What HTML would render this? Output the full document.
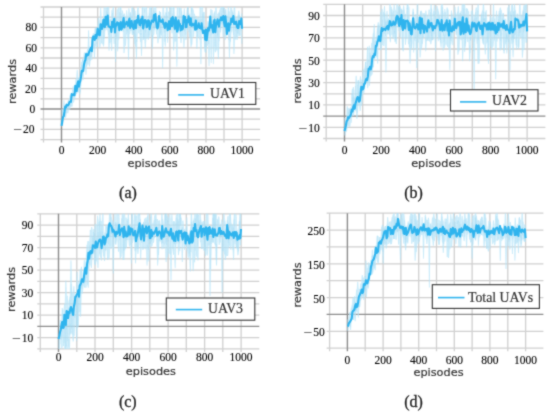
<!DOCTYPE html>
<html><head><meta charset="utf-8"><style>
html,body{margin:0;padding:0;background:#fff;}
svg{display:block;}
.tk{font-family:"Liberation Serif",serif;font-size:11.5px;fill:#000;stroke:#000;stroke-width:0.12px;}
.lb{font-family:"DejaVu Sans",sans-serif;font-size:11.3px;fill:#333;stroke:#333;stroke-width:0.2px;}
.lg{font-family:"Liberation Serif",serif;font-size:13.8px;letter-spacing:0px;fill:#333;stroke:#333;stroke-width:0.2px;}
.cp{font-family:"Liberation Serif",serif;font-size:16px;fill:#222;stroke:#222;stroke-width:0.3px;}
</style></head><body>
<svg width="550" height="415" viewBox="0 0 550 415">
<defs><filter id="bl" x="0" y="0" width="550" height="415" filterUnits="userSpaceOnUse" color-interpolation-filters="sRGB"><feConvolveMatrix order="3" kernelMatrix="0.035 0.09 0.035 0.09 0.5 0.09 0.035 0.09 0.035" edgeMode="duplicate"/></filter></defs>
<rect width="550" height="415" fill="#fff"/>
<g filter="url(#bl)">
<rect width="550" height="415" fill="#fff"/>
<path d="M43.5 7V142.6M79.6 7V142.6M97.7 7V142.6M115.7 7V142.6M133.8 7V142.6M151.8 7V142.6M169.9 7V142.6M187.9 7V142.6M206 7V142.6M224 7V142.6M242.1 7V142.6M40.5 139.6H260.1M40.5 129.4H260.1M40.5 119.2H260.1M40.5 98.8H260.1M40.5 88.6H260.1M40.5 78.4H260.1M40.5 68.2H260.1M40.5 58H260.1M40.5 47.8H260.1M40.5 37.6H260.1M40.5 27.4H260.1M40.5 17.2H260.1M40.5 7H260.1" stroke="#d0d0d0" stroke-width="1.3" fill="none"/>
<path d="M61.5 7V142.6M40.5 109H260.1" stroke="#8c8c8c" stroke-width="1.4" fill="none"/>
<clipPath id="clipa"><rect x="43.5" y="7" width="216.6" height="132.6"/></clipPath>
<g clip-path="url(#clipa)"><polygon points="61.55,108.70 61.91,108.70 62.27,108.70 62.63,109.08 62.99,105.66 63.36,102.23 63.72,100.14 64.08,100.14 64.44,101.65 64.80,104.68 65.16,104.61 65.52,102.78 65.88,104.73 66.24,102.91 66.60,102.71 66.97,103.01 67.33,102.38 67.69,100.87 68.05,99.99 68.41,99.55 68.77,99.55 69.13,98.71 69.49,97.02 69.85,95.34 70.21,95.34 70.58,95.01 70.94,94.36 71.30,93.71 71.66,92.01 72.02,90.13 72.38,87.82 72.74,86.36 73.10,86.36 73.46,86.36 73.82,88.21 74.19,89.03 74.55,87.47 74.91,83.75 75.27,81.08 75.63,78.63 75.99,78.63 76.35,75.09 76.71,71.54 77.07,69.77 77.43,69.77 77.80,71.35 78.16,74.52 78.52,77.68 78.88,77.46 79.24,77.02 79.60,76.58 79.96,74.65 80.32,69.88 80.68,64.19 81.04,62.34 81.41,61.73 81.77,60.50 82.13,59.27 82.49,59.27 82.85,59.27 83.21,57.91 83.57,55.18 83.93,52.46 84.29,52.46 84.65,52.46 85.02,53.13 85.38,53.07 85.74,52.32 86.10,52.09 86.46,51.67 86.82,50.38 87.18,49.09 87.54,45.36 87.90,37.89 88.26,30.42 88.62,30.42 88.99,30.42 89.35,36.99 89.71,44.01 90.07,48.17 90.43,46.99 90.79,46.37 91.15,43.22 91.51,39.97 91.87,38.50 92.24,36.74 92.60,35.06 92.96,33.32 93.32,33.32 93.68,33.32 94.04,33.48 94.40,31.40 94.76,28.03 95.12,27.64 95.48,27.64 95.84,27.64 96.21,28.58 96.57,28.79 96.93,28.18 97.29,25.06 97.65,20.92 98.01,17.84 98.37,17.84 98.73,17.84 99.09,18.85 99.46,19.86 99.82,15.16 100.18,9.96 100.54,7.35 100.90,7.35 101.26,10.19 101.62,15.86 101.98,21.23 102.34,20.61 102.70,19.99 103.06,16.77 103.43,11.13 103.79,5.88 104.15,5.88 104.51,5.88 104.87,7.32 105.23,8.03 105.59,7.65 105.95,5.72 106.31,1.85 106.68,-2.01 107.04,-2.01 107.40,-2.01 107.76,-0.36 108.12,1.29 108.48,2.12 108.84,2.12 109.20,4.72 109.56,11.75 109.92,18.64 110.29,16.93 110.65,19.35 111.01,15.47 111.37,11.59 111.73,9.64 112.09,9.64 112.45,7.72 112.81,5.79 113.17,4.83 113.53,4.83 113.90,7.46 114.26,12.72 114.62,17.97 114.98,18.78 115.34,18.48 115.70,17.23 116.06,15.70 116.42,12.64 116.78,9.58 117.14,9.58 117.51,8.72 117.87,7.86 118.23,7.43 118.59,7.43 118.95,8.42 119.31,8.30 119.67,8.03 120.03,6.69 120.39,6.39 120.75,6.39 121.12,6.39 121.48,8.05 121.84,9.71 122.20,10.54 122.56,10.54 122.92,11.39 123.28,12.86 123.64,14.09 124.00,13.62 124.36,13.62 124.73,13.62 125.09,15.03 125.45,16.44 125.81,14.41 126.17,11.69 126.53,10.32 126.89,10.32 127.25,11.88 127.61,14.99 127.97,14.16 128.34,10.21 128.70,8.23 129.06,8.23 129.42,9.04 129.78,10.65 130.14,12.26 130.50,12.26 130.86,12.26 131.22,8.34 131.58,4.42 131.94,2.46 132.31,2.46 132.67,3.45 133.03,6.36 133.39,9.03 133.75,9.72 134.11,9.14 134.47,9.14 134.83,9.55 135.19,10.35 135.56,11.16 135.92,14.45 136.28,18.40 136.64,16.09 137.00,9.12 137.36,0.45 137.72,-5.56 138.08,-5.56 138.44,-5.56 138.80,2.11 139.17,9.79 139.53,13.87 139.89,14.36 140.25,17.19 140.61,19.92 140.97,17.17 141.33,13.85 141.69,6.18 142.05,-0.36 142.41,-0.36 142.78,-0.36 143.14,1.75 143.50,6.61 143.86,8.09 144.22,5.31 144.58,2.66 144.94,2.66 145.30,2.66 145.66,3.02 146.02,3.38 146.39,3.56 146.75,3.56 147.11,6.61 147.47,12.08 147.83,16.92 148.19,15.65 148.55,12.40 148.91,9.14 149.27,7.51 149.63,7.51 150.00,7.55 150.36,6.77 150.72,5.13 151.08,3.41 151.44,3.41 151.80,3.41 152.16,7.24 152.52,10.41 152.88,9.76 153.24,5.94 153.61,3.44 153.97,3.44 154.33,3.44 154.69,5.49 155.05,6.55 155.41,6.10 155.77,6.10 156.13,6.10 156.49,9.69 156.85,13.77 157.22,16.31 157.58,17.55 157.94,18.64 158.30,17.31 158.66,13.74 159.02,10.97 159.38,10.97 159.74,10.97 160.10,11.43 160.46,11.89 160.83,12.14 161.19,14.03 161.55,17.79 161.91,19.11 162.27,10.71 162.63,1.49 162.99,-1.54 163.35,-1.54 163.71,1.83 164.07,8.57 164.44,12.09 164.80,14.68 165.16,13.42 165.52,12.17 165.88,7.60 166.24,3.02 166.60,0.73 166.96,0.73 167.32,2.49 167.68,6.94 168.05,11.39 168.41,11.87 168.77,11.75 169.13,10.17 169.49,7.25 169.85,4.58 170.21,4.58 170.57,3.90 170.93,2.56 171.29,1.22 171.66,1.22 172.02,1.22 172.38,3.74 172.74,4.70 173.10,3.62 173.46,3.62 173.82,3.62 174.18,4.90 174.54,8.61 174.90,14.11 175.27,18.98 175.63,15.49 175.99,18.98 176.35,15.83 176.71,8.31 177.07,0.19 177.43,0.19 177.79,0.19 178.15,5.32 178.51,7.95 178.88,7.81 179.24,6.79 179.60,6.79 179.96,7.10 180.32,7.55 180.68,8.00 181.04,7.92 181.40,7.92 181.76,8.63 182.12,11.23 182.49,14.61 182.85,16.19 183.21,14.04 183.57,11.24 183.93,8.43 184.29,8.43 184.65,8.43 185.01,12.50 185.37,16.11 185.73,17.69 186.10,15.81 186.46,11.83 186.82,7.10 187.18,5.43 187.54,5.43 187.90,5.43 188.26,6.09 188.62,7.97 188.98,10.77 189.34,13.58 189.71,14.12 190.07,14.16 190.43,11.18 190.79,7.77 191.15,5.62 191.51,4.10 191.87,3.34 192.23,3.34 192.59,4.57 192.95,7.01 193.32,9.45 193.68,10.32 194.04,12.05 194.40,13.77 194.76,13.77 195.12,14.80 195.48,15.75 195.84,16.15 196.20,16.15 196.56,16.15 196.93,16.87 197.29,17.59 197.65,17.75 198.01,17.37 198.37,16.98 198.73,16.98 199.09,16.98 199.45,7.81 199.81,-1.36 200.17,-5.95 200.54,-5.95 200.90,-1.35 201.26,-0.28 201.62,0.80 201.98,-3.25 202.34,-3.25 202.70,-0.17 203.06,6.00 203.42,12.08 203.78,11.99 204.15,11.95 204.51,11.95 204.87,14.90 205.23,22.06 205.59,29.55 205.95,27.54 206.31,31.02 206.67,31.02 207.03,27.02 207.39,23.02 207.76,21.02 208.12,21.02 208.48,21.39 208.84,22.13 209.20,20.04 209.56,17.22 209.92,13.04 210.28,10.27 210.64,8.88 211.00,8.88 211.37,9.13 211.73,9.62 212.09,10.11 212.45,10.11 212.81,13.48 213.17,14.71 213.53,14.07 213.89,12.23 214.25,11.59 214.61,11.59 214.98,10.10 215.34,7.13 215.70,4.16 216.06,4.16 216.42,4.16 216.78,9.55 217.14,13.48 217.50,13.98 217.86,13.36 218.22,12.74 218.59,12.44 218.95,11.31 219.31,10.19 219.67,9.63 220.03,5.79 220.39,1.95 220.75,0.03 221.11,0.03 221.47,0.31 221.83,1.67 222.20,3.04 222.56,3.92 222.92,4.46 223.28,4.98 223.64,4.78 224.00,4.78 224.36,5.89 224.72,7.81 225.08,9.44 225.44,8.85 225.81,8.85 226.17,8.85 226.53,11.61 226.89,14.38 227.25,13.61 227.61,9.32 227.97,5.03 228.33,5.03 228.69,5.03 229.05,7.73 229.42,10.42 229.78,11.58 230.14,9.17 230.50,6.76 230.86,5.75 231.22,5.75 231.58,6.55 231.94,8.15 232.30,9.75 232.66,10.62 233.03,11.48 233.39,9.33 233.75,3.66 234.11,-2.25 234.47,-2.25 234.83,-2.25 235.19,4.92 235.55,12.68 235.91,17.08 236.27,17.41 236.64,17.97 237.00,17.57 237.36,16.05 237.72,14.16 238.08,12.29 238.44,10.73 238.80,10.73 239.16,10.73 239.52,12.36 239.88,14.00 240.25,16.92 240.61,17.73 240.97,16.19 241.33,13.60 241.69,13.60 242.05,13.60 242.05,43.72 241.69,43.72 241.33,41.19 240.97,38.01 240.61,34.83 240.25,35.77 239.88,35.94 239.52,36.10 239.16,36.19 238.80,36.19 238.44,35.72 238.08,37.22 237.72,38.72 237.36,39.94 237.00,39.94 236.64,39.39 236.27,39.27 235.91,39.15 235.55,39.64 235.19,39.64 234.83,45.35 234.47,51.06 234.11,53.92 233.75,53.92 233.39,50.17 233.03,40.03 232.66,31.36 232.30,30.18 231.94,32.24 231.58,34.13 231.22,37.90 230.86,41.67 230.50,45.18 230.14,51.71 229.78,58.00 229.42,58.00 229.05,58.00 228.69,50.74 228.33,43.49 227.97,37.41 227.61,34.96 227.25,34.29 226.89,35.89 226.53,36.46 226.17,37.18 225.81,38.63 225.44,40.07 225.08,40.07 224.72,40.07 224.36,33.96 224.00,32.94 223.64,34.98 223.28,37.52 222.92,37.52 222.56,34.92 222.20,29.68 221.83,25.54 221.47,28.22 221.11,31.45 220.75,32.43 220.39,32.43 220.03,35.94 219.67,39.83 219.31,48.72 218.95,55.84 218.59,59.02 218.22,59.02 217.86,57.28 217.50,53.81 217.14,50.34 216.78,50.34 216.42,50.73 216.06,51.52 215.70,52.30 215.34,52.30 214.98,52.30 214.61,50.34 214.25,55.07 213.89,60.95 213.53,64.12 213.17,64.12 212.81,58.20 212.45,47.62 212.09,47.21 211.73,58.65 211.37,63.10 211.00,63.10 210.64,57.80 210.28,49.35 209.92,50.57 209.56,62.40 209.20,66.16 208.84,66.16 208.48,62.02 208.12,53.74 207.76,45.47 207.39,46.01 207.03,47.10 206.67,49.99 206.31,51.80 205.95,52.70 205.59,52.70 205.23,52.59 204.87,52.38 204.51,51.35 204.15,49.70 203.78,42.15 203.42,36.25 203.06,34.99 202.70,33.13 202.34,33.01 201.98,41.82 201.62,54.26 201.26,64.12 200.90,64.12 200.54,64.12 200.17,54.33 199.81,44.55 199.45,39.65 199.09,37.83 198.73,37.00 198.37,37.56 198.01,39.62 197.65,44.12 197.29,48.63 196.93,48.82 196.56,48.82 196.20,45.53 195.84,38.18 195.48,30.07 195.12,31.78 194.76,30.17 194.40,33.46 194.04,36.75 193.68,36.75 193.32,36.75 192.95,36.65 192.59,39.71 192.23,44.42 191.87,45.49 191.51,46.56 191.15,47.10 190.79,47.10 190.43,45.23 190.07,41.49 189.71,37.75 189.34,37.75 188.98,35.47 188.62,33.20 188.26,31.23 187.90,30.40 187.54,29.98 187.18,31.62 186.82,35.61 186.46,39.60 186.10,39.96 185.73,39.96 185.37,38.89 185.01,39.99 184.65,43.13 184.29,47.80 183.93,47.80 183.57,47.80 183.21,43.32 182.85,38.84 182.49,36.60 182.12,37.89 181.76,40.47 181.40,43.05 181.04,43.05 180.68,43.05 180.32,40.55 179.96,38.04 179.60,35.32 179.24,33.86 178.88,34.11 178.51,33.13 178.15,32.46 177.79,45.88 177.43,59.63 177.07,66.67 176.71,66.67 176.35,61.60 175.99,51.50 175.63,41.42 175.27,41.49 174.90,41.49 174.54,45.08 174.18,48.67 173.82,50.47 173.46,50.47 173.10,47.02 172.74,40.14 172.38,33.25 172.02,33.25 171.66,33.25 171.29,31.35 170.93,29.44 170.57,28.49 170.21,28.49 169.85,31.13 169.49,24.68 169.13,23.20 168.77,30.47 168.41,36.82 168.05,42.70 167.68,42.70 167.32,42.70 166.96,38.44 166.60,34.18 166.24,37.87 165.88,43.70 165.52,46.62 165.16,46.62 164.80,45.66 164.44,43.75 164.07,38.08 163.71,44.36 163.35,56.79 162.99,68.20 162.63,68.20 162.27,68.20 161.91,55.47 161.55,42.31 161.19,35.39 160.83,36.46 160.46,37.62 160.10,38.21 159.74,38.21 159.38,38.21 159.02,39.22 158.66,41.23 158.30,43.24 157.94,43.24 157.58,43.24 157.22,39.65 156.85,36.06 156.49,34.27 156.13,34.27 155.77,31.64 155.41,29.72 155.05,29.10 154.69,31.70 154.33,33.96 153.97,35.09 153.61,36.57 153.24,42.06 152.88,46.81 152.52,48.82 152.16,48.82 151.80,45.39 151.44,38.53 151.08,32.72 150.72,34.81 150.36,36.91 150.00,36.91 149.63,36.91 149.27,38.05 148.91,39.19 148.55,39.76 148.19,39.76 147.83,39.32 147.47,38.66 147.11,38.22 146.75,38.68 146.39,40.56 146.02,44.33 145.66,48.09 145.30,48.09 144.94,48.09 144.58,44.41 144.22,41.13 143.86,39.68 143.50,39.88 143.14,39.88 142.78,39.80 142.41,46.23 142.05,52.67 141.69,55.96 141.33,55.96 140.97,53.15 140.61,47.52 140.25,41.89 139.89,40.37 139.53,37.12 139.17,33.68 138.80,33.28 138.44,33.28 138.08,32.69 137.72,36.12 137.36,47.73 137.00,55.59 136.64,59.02 136.28,59.02 135.92,56.55 135.56,51.62 135.19,46.68 134.83,45.53 134.47,44.38 134.11,41.95 133.75,38.26 133.39,34.63 133.03,34.76 132.67,34.90 132.31,34.90 131.94,34.90 131.58,33.24 131.22,31.59 130.86,31.41 130.50,32.71 130.14,34.01 129.78,35.29 129.42,45.70 129.06,56.11 128.70,60.04 128.34,60.04 127.97,55.73 127.61,47.11 127.25,36.85 126.89,35.20 126.53,38.19 126.17,42.72 125.81,45.71 125.45,45.71 125.09,47.83 124.73,50.77 124.36,53.05 124.00,53.05 123.64,53.05 123.28,44.55 122.92,36.06 122.56,30.51 122.20,29.42 121.84,28.53 121.48,31.69 121.12,32.98 120.75,29.79 120.39,30.06 120.03,30.30 119.67,34.15 119.31,37.88 118.95,39.74 118.59,44.38 118.23,49.03 117.87,51.35 117.51,51.35 117.14,48.95 116.78,44.94 116.42,49.23 116.06,58.33 115.70,62.08 115.34,62.08 114.98,58.43 114.62,51.14 114.26,43.85 113.90,43.85 113.53,40.55 113.17,33.10 112.81,30.37 112.45,39.81 112.09,50.95 111.73,50.95 111.37,50.95 111.01,47.46 110.65,44.10 110.29,42.64 109.92,46.09 109.56,49.27 109.20,50.86 108.84,50.86 108.48,47.68 108.12,41.31 107.76,33.02 107.40,31.10 107.04,30.14 106.68,30.14 106.31,28.81 105.95,29.07 105.59,29.47 105.23,33.98 104.87,37.02 104.51,41.63 104.15,44.86 103.79,46.48 103.43,46.48 103.06,46.02 102.70,45.08 102.34,43.99 101.98,43.65 101.62,43.32 101.26,43.32 100.90,44.23 100.54,46.05 100.18,47.87 99.82,47.87 99.46,47.87 99.09,44.67 98.73,41.47 98.37,39.84 98.01,42.86 97.65,45.89 97.29,47.43 96.93,47.43 96.57,47.18 96.21,46.67 95.84,46.16 95.48,50.75 95.12,55.46 94.76,57.94 94.40,57.94 94.04,57.94 93.68,54.11 93.32,48.88 92.96,48.51 92.60,53.78 92.24,59.79 91.87,59.79 91.51,59.79 91.15,60.31 90.79,60.83 90.43,63.25 90.07,65.41 89.71,66.49 89.35,66.49 88.99,66.11 88.62,65.34 88.26,64.57 87.90,64.57 87.54,65.46 87.18,66.36 86.82,70.00 86.46,73.18 86.10,74.77 85.74,74.77 85.38,72.42 85.02,68.65 84.65,66.29 84.29,70.29 83.93,75.28 83.57,79.38 83.21,80.24 82.85,80.24 82.49,79.23 82.13,77.37 81.77,78.06 81.41,83.75 81.04,89.68 80.68,93.01 80.32,93.94 79.96,94.43 79.60,94.43 79.24,94.43 78.88,93.47 78.52,92.51 78.16,92.03 77.80,92.41 77.43,93.19 77.07,93.96 76.71,93.96 76.35,94.55 75.99,93.87 75.63,96.05 75.27,98.24 74.91,99.41 74.55,100.62 74.19,101.84 73.82,102.45 73.46,102.45 73.10,103.31 72.74,105.04 72.38,106.76 72.02,106.76 71.66,106.76 71.30,106.73 70.94,106.69 70.58,108.00 70.21,109.32 69.85,109.98 69.49,109.98 69.13,109.83 68.77,111.16 68.41,112.50 68.05,113.32 67.69,113.32 67.33,113.28 66.97,113.21 66.60,114.96 66.24,116.79 65.88,117.71 65.52,117.71 65.16,117.33 64.80,116.58 64.44,116.99 64.08,118.20 63.72,121.11 63.36,123.41 62.99,124.55 62.63,125.05 62.27,125.55 61.91,125.79 61.55,127.89" fill="#c8ecfb" opacity="0.6"/>
<polyline points="61.55,122.52 61.73,125.79 61.91,120.97 62.09,108.70 62.27,114.47 62.45,113.93 62.63,122.08 62.81,124.55 62.99,110.62 63.17,118.87 63.36,115.93 63.54,118.72 63.72,115.75 63.90,100.14 64.08,114.75 64.26,113.13 64.44,110.89 64.62,108.09 64.80,115.83 64.98,114.93 65.16,109.75 65.34,107.70 65.52,109.04 65.70,117.71 65.88,112.51 66.06,111.99 66.24,105.67 66.42,113.13 66.60,107.80 66.78,103.33 66.97,107.19 67.15,108.73 67.33,107.55 67.51,107.29 67.69,104.35 67.87,113.32 68.05,101.74 68.23,107.60 68.41,102.33 68.59,99.55 68.77,109.21 68.95,104.61 69.13,105.11 69.31,100.60 69.49,105.34 69.67,109.98 69.85,106.33 70.03,100.72 70.21,95.34 70.39,105.41 70.58,106.67 70.76,100.35 70.94,102.84 71.12,106.65 71.30,100.39 71.48,99.22 71.66,93.71 71.84,102.68 72.02,106.76 72.20,101.69 72.38,98.83 72.56,90.52 72.74,91.16 72.92,89.52 73.10,86.36 73.28,95.37 73.46,92.89 73.64,102.45 73.82,93.00 74.00,94.27 74.19,92.90 74.37,90.99 74.55,96.75 74.73,99.41 74.91,93.59 75.09,93.50 75.27,85.84 75.45,84.76 75.63,87.92 75.81,91.83 75.99,78.63 76.17,82.78 76.35,93.24 76.53,93.88 76.71,93.96 76.89,86.32 77.07,86.03 77.25,69.77 77.43,85.21 77.61,83.89 77.80,89.75 77.98,85.66 78.16,83.64 78.34,92.03 78.52,77.68 78.70,83.24 78.88,79.06 79.06,82.64 79.24,86.27 79.42,78.17 79.60,94.43 79.78,94.28 79.96,76.58 80.14,79.78 80.32,92.11 80.50,87.13 80.68,84.93 80.86,78.97 81.04,66.97 81.22,75.60 81.41,62.34 81.59,75.16 81.77,75.19 81.95,64.92 82.13,67.65 82.31,62.71 82.49,59.27 82.67,61.35 82.85,59.27 83.03,80.24 83.21,75.95 83.39,68.97 83.57,69.99 83.75,64.95 83.93,67.75 84.11,59.28 84.29,52.46 84.47,58.79 84.65,55.94 84.83,57.38 85.02,58.83 85.20,56.44 85.38,62.98 85.56,57.92 85.74,57.99 85.92,74.77 86.10,52.32 86.28,58.17 86.46,56.72 86.64,66.81 86.82,52.42 87.00,53.00 87.18,63.41 87.36,55.22 87.54,49.09 87.72,52.53 87.90,64.57 88.08,58.60 88.26,54.58 88.44,60.18 88.62,30.42 88.81,56.01 88.99,57.20 89.17,46.86 89.35,55.63 89.53,66.49 89.71,51.68 89.89,59.62 90.07,55.16 90.25,61.10 90.43,55.09 90.61,50.26 90.79,49.04 90.97,57.10 91.15,52.55 91.33,56.69 91.51,47.45 91.69,45.82 91.87,59.79 92.05,38.50 92.24,43.80 92.42,44.36 92.60,44.69 92.78,42.91 92.96,39.31 93.14,36.86 93.32,33.32 93.50,41.78 93.68,44.85 93.86,44.86 94.04,48.37 94.22,43.76 94.40,57.94 94.58,57.34 94.76,42.41 94.94,38.81 95.12,28.62 95.30,38.88 95.48,27.64 95.66,46.16 95.84,32.20 96.03,31.79 96.21,34.98 96.39,37.66 96.57,37.34 96.75,44.19 96.93,41.59 97.11,47.43 97.29,28.18 97.47,36.93 97.65,33.48 97.83,31.16 98.01,39.13 98.19,22.93 98.37,17.84 98.55,33.22 98.73,39.71 98.91,39.87 99.09,20.37 99.27,29.12 99.46,37.48 99.64,25.35 99.82,47.87 100.00,36.63 100.18,27.56 100.36,26.88 100.54,33.26 100.72,7.35 100.90,33.58 101.08,21.86 101.26,24.44 101.44,43.32 101.62,29.49 101.80,27.89 101.98,21.54 102.16,29.58 102.34,28.35 102.52,22.83 102.70,21.98 102.88,44.15 103.06,19.99 103.25,26.44 103.43,24.53 103.61,46.48 103.79,27.97 103.97,17.99 104.15,5.88 104.33,38.39 104.51,31.54 104.69,21.80 104.87,24.76 105.05,30.79 105.23,22.71 105.41,23.46 105.59,11.47 105.77,11.29 105.95,7.65 106.13,10.74 106.31,18.62 106.49,17.38 106.68,10.63 106.86,30.14 107.04,-2.01 107.22,15.78 107.40,12.10 107.58,23.63 107.76,5.80 107.94,14.84 108.12,20.73 108.30,29.56 108.48,34.95 108.66,2.12 108.84,15.14 109.02,50.86 109.20,38.64 109.38,30.67 109.56,42.91 109.74,39.50 109.92,33.12 110.10,24.47 110.29,30.29 110.47,19.68 110.65,22.12 110.83,19.35 111.01,42.22 111.19,24.43 111.37,32.24 111.55,37.19 111.73,50.95 111.91,9.64 112.09,15.78 112.27,23.11 112.45,12.61 112.63,18.01 112.81,22.78 112.99,22.23 113.17,21.83 113.35,4.83 113.53,20.99 113.71,27.35 113.90,19.54 114.08,43.85 114.26,17.97 114.44,32.94 114.62,24.65 114.80,23.50 114.98,29.27 115.16,28.85 115.34,22.74 115.52,62.08 115.70,43.32 115.88,32.65 116.06,17.23 116.24,39.34 116.42,23.73 116.60,22.91 116.78,36.49 116.96,20.48 117.14,9.58 117.32,25.69 117.51,31.17 117.69,51.35 117.87,21.15 118.05,29.79 118.23,19.44 118.41,7.43 118.59,23.26 118.77,39.74 118.95,28.26 119.13,27.60 119.31,30.42 119.49,12.37 119.67,19.46 119.85,30.11 120.03,29.17 120.21,7.13 120.39,29.58 120.57,13.21 120.75,6.39 120.93,24.49 121.12,28.49 121.30,13.27 121.48,26.23 121.66,25.95 121.84,27.51 122.02,21.59 122.20,20.64 122.38,10.54 122.56,28.55 122.74,28.33 122.92,26.81 123.10,15.34 123.28,31.81 123.46,15.46 123.64,14.80 123.82,30.96 124.00,53.05 124.18,48.97 124.36,13.62 124.54,24.19 124.73,26.07 124.91,21.58 125.09,19.87 125.27,43.44 125.45,45.71 125.63,42.11 125.81,23.57 125.99,17.14 126.17,17.95 126.35,27.56 126.53,34.38 126.71,10.32 126.89,30.98 127.07,23.20 127.25,24.51 127.43,24.23 127.61,32.63 127.79,28.21 127.97,38.49 128.15,18.11 128.34,20.13 128.52,60.04 128.70,40.40 128.88,8.23 129.06,17.98 129.24,24.83 129.42,26.43 129.60,32.84 129.78,34.01 129.96,13.34 130.14,30.07 130.32,23.35 130.50,12.26 130.68,30.62 130.86,27.54 131.04,30.76 131.22,14.76 131.40,20.44 131.58,19.40 131.76,19.17 131.94,19.35 132.13,2.46 132.31,34.90 132.49,7.42 132.67,12.03 132.85,33.25 133.03,19.12 133.21,19.93 133.39,20.22 133.57,34.56 133.75,26.60 133.93,32.92 134.11,34.43 134.29,9.14 134.47,22.49 134.65,43.80 134.83,33.95 135.01,38.66 135.19,11.16 135.37,27.78 135.56,46.68 135.74,19.38 135.92,25.69 136.10,22.73 136.28,33.45 136.46,59.02 136.64,39.51 136.82,41.87 137.00,36.85 137.18,26.46 137.36,24.27 137.54,9.48 137.72,24.44 137.90,26.74 138.08,-5.56 138.26,16.60 138.44,25.71 138.62,24.83 138.80,33.28 138.98,13.63 139.17,15.73 139.35,23.40 139.53,14.84 139.71,26.36 139.89,20.70 140.07,34.27 140.25,33.21 140.43,41.89 140.61,29.07 140.79,31.60 140.97,21.67 141.15,34.75 141.33,33.03 141.51,55.96 141.69,39.49 141.87,15.98 142.05,26.19 142.23,19.76 142.41,-0.36 142.59,21.80 142.78,4.91 142.96,14.31 143.14,15.57 143.32,39.88 143.50,15.94 143.68,37.42 143.86,21.88 144.04,22.88 144.22,38.90 144.40,33.06 144.58,9.27 144.76,12.34 144.94,2.66 145.12,18.40 145.30,48.09 145.48,22.78 145.66,32.47 145.84,23.88 146.02,25.46 146.20,26.30 146.39,38.68 146.57,3.56 146.75,22.88 146.93,28.23 147.11,23.36 147.29,18.82 147.47,22.19 147.65,27.85 147.83,37.54 148.01,30.91 148.19,31.29 148.37,39.76 148.55,15.65 148.73,23.15 148.91,24.86 149.09,35.22 149.27,20.06 149.45,7.51 149.63,23.51 149.81,13.42 150.00,36.91 150.18,25.02 150.36,23.01 150.54,7.71 150.72,25.74 150.90,31.67 151.08,23.79 151.26,22.38 151.44,3.41 151.62,18.87 151.80,17.40 151.98,16.24 152.16,14.08 152.34,48.82 152.52,34.99 152.70,38.78 152.88,12.98 153.06,18.32 153.24,15.69 153.42,28.28 153.61,9.69 153.79,35.09 153.97,3.44 154.15,28.61 154.33,23.89 154.51,29.45 154.69,19.37 154.87,22.65 155.05,11.00 155.23,24.42 155.41,27.71 155.59,13.16 155.77,6.10 155.95,13.85 156.13,21.90 156.31,18.19 156.49,34.27 156.67,19.04 156.85,16.31 157.03,18.96 157.22,30.37 157.40,21.05 157.58,29.78 157.76,21.34 157.94,43.24 158.12,29.68 158.30,22.95 158.48,22.25 158.66,19.89 158.84,24.19 159.02,18.14 159.20,17.65 159.38,10.97 159.56,38.21 159.74,23.05 159.92,38.19 160.10,18.09 160.28,12.12 160.46,34.55 160.64,12.21 160.83,32.98 161.01,25.77 161.19,27.16 161.37,21.52 161.55,35.31 161.73,23.15 161.91,24.66 162.09,23.98 162.27,35.72 162.45,37.02 162.63,68.20 162.81,46.93 162.99,13.60 163.17,-1.54 163.35,23.08 163.53,27.43 163.71,25.05 163.89,19.17 164.07,23.77 164.25,32.43 164.44,15.30 164.62,24.05 164.80,41.84 164.98,38.82 165.16,16.13 165.34,46.62 165.52,21.29 165.70,29.45 165.88,12.17 166.06,25.18 166.24,32.05 166.42,12.85 166.60,26.05 166.78,0.73 166.96,9.51 167.14,22.50 167.32,15.96 167.50,18.63 167.68,42.70 167.86,34.70 168.05,15.34 168.23,15.70 168.41,13.73 168.59,11.87 168.77,18.58 168.95,21.30 169.13,20.43 169.31,17.67 169.49,19.00 169.67,22.14 169.85,11.27 170.03,15.81 170.21,4.58 170.39,28.49 170.57,24.57 170.75,27.02 170.93,21.27 171.11,21.66 171.29,19.59 171.47,23.00 171.66,1.22 171.84,11.44 172.02,33.25 172.20,26.20 172.38,13.52 172.56,14.08 172.74,23.05 172.92,15.65 173.10,29.75 173.28,27.04 173.46,3.62 173.64,50.47 173.82,25.84 174.00,6.82 174.18,24.65 174.36,30.86 174.54,26.34 174.72,37.23 174.90,41.49 175.08,22.96 175.27,30.20 175.45,19.92 175.63,18.98 175.81,23.14 175.99,41.32 176.17,25.92 176.35,25.24 176.53,28.06 176.71,29.19 176.89,66.67 177.07,25.55 177.25,22.01 177.43,0.19 177.61,14.10 177.79,14.36 177.97,25.57 178.15,26.88 178.33,27.14 178.51,31.46 178.69,15.63 178.88,33.13 179.06,30.01 179.24,11.90 179.42,6.79 179.60,18.83 179.78,17.42 179.96,8.35 180.14,22.60 180.32,36.78 180.50,33.99 180.68,23.75 180.86,23.71 181.04,43.05 181.22,7.92 181.40,24.04 181.58,11.49 181.76,18.99 181.94,30.68 182.12,28.44 182.30,36.60 182.49,29.03 182.67,24.58 182.85,23.81 183.03,17.32 183.21,30.57 183.39,21.06 183.57,15.44 183.75,25.45 183.93,47.80 184.11,37.65 184.29,8.43 184.47,21.62 184.65,31.13 184.83,18.60 185.01,30.71 185.19,34.60 185.37,27.46 185.55,26.11 185.73,29.52 185.91,39.96 186.10,38.15 186.28,17.47 186.46,21.57 186.64,28.20 186.82,20.73 187.00,17.03 187.18,9.61 187.36,29.98 187.54,5.43 187.72,20.32 187.90,8.06 188.08,7.07 188.26,24.48 188.44,23.09 188.62,13.23 188.80,13.61 188.98,32.06 189.16,27.61 189.34,14.59 189.52,17.83 189.71,37.75 189.89,36.01 190.07,20.36 190.25,36.67 190.43,20.08 190.61,16.74 190.79,17.92 190.97,47.10 191.15,10.32 191.33,7.14 191.51,11.80 191.69,9.30 191.87,44.42 192.05,3.34 192.23,20.01 192.41,16.61 192.59,28.58 192.77,24.70 192.95,26.99 193.13,9.45 193.32,17.22 193.50,26.74 193.68,36.75 193.86,17.10 194.04,19.43 194.22,22.91 194.40,13.77 194.58,17.02 194.76,22.23 194.94,16.92 195.12,28.53 195.30,18.91 195.48,20.19 195.66,21.94 195.84,28.54 196.02,16.53 196.20,16.15 196.38,32.37 196.56,25.13 196.74,48.82 196.93,47.85 197.11,28.16 197.29,17.95 197.47,36.62 197.65,27.04 197.83,19.64 198.01,37.56 198.19,32.65 198.37,27.59 198.55,20.42 198.73,16.98 198.91,26.22 199.09,28.20 199.27,21.49 199.45,31.37 199.63,30.51 199.81,39.65 199.99,18.90 200.17,29.48 200.35,-5.95 200.54,20.45 200.72,31.42 200.90,64.12 201.08,45.95 201.26,22.21 201.44,24.37 201.62,18.67 201.80,31.60 201.98,17.01 202.16,-3.25 202.34,33.01 202.52,28.27 202.70,23.36 202.88,13.73 203.06,24.84 203.24,12.17 203.42,27.28 203.60,33.31 203.78,24.67 203.96,26.54 204.15,14.19 204.33,11.95 204.51,48.04 204.69,26.71 204.87,40.62 205.05,52.18 205.23,35.62 205.41,32.98 205.59,34.77 205.77,52.70 205.95,39.22 206.13,40.87 206.31,48.19 206.49,31.02 206.67,38.92 206.85,41.04 207.03,35.80 207.21,38.46 207.39,45.47 207.57,45.12 207.76,33.53 207.94,21.02 208.12,26.62 208.30,33.67 208.48,22.87 208.66,43.91 208.84,40.18 209.02,66.16 209.20,47.37 209.38,25.40 209.56,29.10 209.74,32.65 209.92,25.84 210.10,15.81 210.28,34.28 210.46,36.59 210.64,19.30 210.82,8.88 211.00,20.87 211.18,63.10 211.37,40.83 211.55,24.92 211.73,25.68 211.91,34.51 212.09,10.11 212.27,17.87 212.45,22.68 212.63,21.42 212.81,19.19 212.99,25.54 213.17,29.68 213.35,64.12 213.53,48.29 213.71,40.11 213.89,21.34 214.07,13.19 214.25,21.48 214.43,24.36 214.61,11.59 214.79,21.89 214.98,46.53 215.16,31.18 215.34,52.30 215.52,31.41 215.70,21.07 215.88,15.46 216.06,4.16 216.24,28.37 216.42,22.23 216.60,21.30 216.78,50.34 216.96,31.56 217.14,30.39 217.32,37.94 217.50,27.37 217.68,35.47 217.86,13.98 218.04,27.18 218.22,32.99 218.40,59.02 218.59,43.14 218.77,12.44 218.95,12.83 219.13,41.20 219.31,12.72 219.49,26.70 219.67,16.44 219.85,9.63 220.03,28.32 220.21,16.35 220.39,32.43 220.57,20.76 220.75,29.99 220.93,0.03 221.11,1.43 221.29,18.82 221.47,13.74 221.65,24.33 221.83,3.44 222.01,3.52 222.20,11.33 222.38,22.54 222.56,22.18 222.74,24.51 222.92,5.78 223.10,37.52 223.28,14.82 223.46,8.44 223.64,12.16 223.82,4.78 224.00,18.12 224.18,18.71 224.36,11.89 224.54,24.80 224.72,22.61 224.90,24.30 225.08,40.07 225.26,10.34 225.44,19.95 225.62,24.53 225.81,8.85 225.99,31.79 226.17,36.46 226.35,29.19 226.53,28.08 226.71,29.13 226.89,28.52 227.07,22.95 227.25,32.39 227.43,15.76 227.61,28.60 227.79,33.74 227.97,20.10 228.15,19.68 228.33,5.03 228.51,22.09 228.69,39.86 228.87,17.19 229.05,32.58 229.23,11.77 229.42,58.00 229.60,42.90 229.78,29.77 229.96,17.86 230.14,26.75 230.32,36.90 230.50,41.67 230.68,14.36 230.86,10.80 231.04,5.75 231.22,21.90 231.40,21.07 231.58,28.41 231.76,32.24 231.94,9.75 232.12,14.17 232.30,18.76 232.48,21.83 232.66,11.92 232.84,17.02 233.03,21.94 233.21,13.13 233.39,15.58 233.57,35.19 233.75,21.69 233.93,53.92 234.11,38.90 234.29,38.39 234.47,-2.25 234.65,14.59 234.83,16.76 235.01,19.81 235.19,24.92 235.37,39.64 235.55,23.53 235.73,17.15 235.91,31.35 236.09,18.46 236.27,28.43 236.45,21.25 236.64,37.21 236.82,18.64 237.00,32.06 237.18,39.94 237.36,30.86 237.54,23.81 237.72,33.22 237.90,16.16 238.08,33.86 238.26,14.64 238.44,20.67 238.62,30.20 238.80,10.73 238.98,36.19 239.16,15.66 239.34,22.62 239.52,14.81 239.70,33.81 239.88,33.49 240.06,35.77 240.25,27.07 240.43,20.08 240.61,23.84 240.79,23.56 240.97,30.27 241.15,31.09 241.33,22.32 241.51,21.00 241.69,13.60 241.87,43.72 242.05,36.25" stroke="#9fd8f2" stroke-width="0.8" fill="none" opacity="0.24"/>
<polyline points="61.55,125.85 62.27,121.32 62.99,117.12 63.72,116.28 64.44,111.97 65.16,106.65 65.88,107.43 66.60,104.75 67.33,105.49 68.05,105.34 68.77,104.26 69.49,102.15 70.21,101.61 70.94,101.86 71.66,94.05 72.38,94.52 73.10,95.25 73.82,94.09 74.55,95.12 75.27,85.79 75.99,88.60 76.71,91.15 77.43,83.61 78.16,81.25 78.88,86.72 79.60,83.03 80.32,80.92 81.04,76.46 81.77,70.72 82.49,71.44 83.21,70.94 83.93,64.94 84.65,61.49 85.38,60.06 86.10,54.13 86.82,55.84 87.54,54.47 88.26,55.00 88.99,52.14 89.71,50.79 90.43,49.03 91.15,47.58 91.87,51.11 92.60,38.15 93.32,36.37 94.04,39.27 94.76,39.85 95.48,34.92 96.21,38.30 96.93,35.02 97.65,28.46 98.37,31.39 99.09,35.04 99.82,35.09 100.54,24.28 101.26,24.55 101.98,28.90 102.70,26.69 103.43,19.51 104.15,25.63 104.87,27.17 105.59,16.92 106.31,24.63 107.04,17.98 107.76,15.52 108.48,26.44 109.20,26.42 109.92,27.25 110.65,27.10 111.37,31.94 112.09,21.77 112.81,27.10 113.53,21.66 114.26,18.82 114.98,32.53 115.70,24.55 116.42,25.70 117.14,22.40 117.87,24.45 118.59,23.22 119.31,30.14 120.03,24.56 120.75,22.13 121.48,29.65 122.20,27.38 122.92,22.58 123.64,18.08 124.36,27.55 125.09,23.68 125.81,24.20 126.53,21.94 127.25,23.76 127.97,25.94 128.70,20.75 129.42,18.58 130.14,27.95 130.86,25.19 131.58,21.00 132.31,25.88 133.03,27.46 133.75,28.95 134.47,21.18 135.19,21.00 135.92,28.11 136.64,20.01 137.36,22.71 138.08,15.79 138.80,21.15 139.53,24.55 140.25,25.45 140.97,19.21 141.69,23.03 142.41,16.67 143.14,28.47 143.86,24.24 144.58,20.24 145.30,19.95 146.02,21.08 146.75,27.17 147.47,25.84 148.19,20.24 148.91,20.80 149.63,29.11 150.36,25.05 151.08,23.07 151.80,20.62 152.52,21.17 153.24,21.80 153.97,14.98 154.69,20.10 155.41,14.04 156.13,21.18 156.85,27.34 157.58,28.27 158.30,25.87 159.02,16.00 159.74,19.71 160.46,21.47 161.19,21.90 161.91,21.15 162.63,19.40 163.35,23.91 164.07,24.90 164.80,28.05 165.52,22.72 166.24,23.52 166.96,25.28 167.68,30.13 168.41,23.89 169.13,21.16 169.85,29.09 170.57,24.12 171.29,18.36 172.02,26.07 172.74,17.17 173.46,20.17 174.18,23.24 174.90,28.75 175.63,17.53 176.35,21.98 177.07,31.58 177.79,30.11 178.51,20.25 179.24,23.61 179.96,24.15 180.68,30.45 181.40,26.13 182.12,29.42 182.85,28.69 183.57,15.93 184.29,21.84 185.01,16.91 185.73,27.18 186.46,27.03 187.18,19.69 187.90,22.28 188.62,16.31 189.34,20.92 190.07,24.83 190.79,18.40 191.51,25.79 192.23,23.66 192.95,25.05 193.68,24.72 194.40,23.64 195.12,29.74 195.84,20.61 196.56,29.21 197.29,27.43 198.01,27.19 198.73,23.29 199.45,27.84 200.17,27.58 200.90,28.53 201.62,23.26 202.34,28.96 203.06,32.95 203.78,31.20 204.51,30.62 205.23,39.59 205.95,29.58 206.67,40.15 207.39,34.35 208.12,28.16 208.84,30.64 209.56,26.52 210.28,16.51 211.00,27.40 211.73,25.00 212.45,28.40 213.17,32.35 213.89,21.39 214.61,19.66 215.34,32.13 216.06,24.58 216.78,23.24 217.50,19.33 218.22,24.40 218.95,26.61 219.67,19.99 220.39,19.90 221.11,17.34 221.83,20.33 222.56,18.94 223.28,16.12 224.00,22.33 224.72,26.19 225.44,16.26 226.17,23.85 226.89,33.85 227.61,27.98 228.33,23.28 229.05,30.65 229.78,23.93 230.50,24.31 231.22,18.56 231.94,21.98 232.66,21.21 233.39,16.02 234.11,23.89 234.83,22.31 235.55,23.89 236.27,21.64 237.00,26.67 237.72,27.96 238.44,27.99 239.16,21.09 239.88,22.49 240.61,24.25 241.33,18.43 242.05,28.78" stroke="#2fb4ee" stroke-width="2.1" fill="none" stroke-linejoin="round"/></g>
<text class="tk" x="34.4" y="133.3" text-anchor="end">20</text>
<text class="tk" transform="translate(21.9 133.3) scale(1.35 1)" text-anchor="end">−</text>
<text class="tk" x="35.2" y="112.9" text-anchor="end">0</text>
<text class="tk" x="36.4" y="92.5" text-anchor="end">20</text>
<text class="tk" x="36.9" y="72.1" text-anchor="end">40</text>
<text class="tk" x="36.9" y="51.7" text-anchor="end">60</text>
<text class="tk" x="37" y="31.3" text-anchor="end">80</text>
<text class="tk" x="61.5" y="153.9" text-anchor="middle">0</text>
<text class="tk" x="97.7" y="153.9" text-anchor="middle">200</text>
<text class="tk" x="133.8" y="153.9" text-anchor="middle">400</text>
<text class="tk" x="169.9" y="153.9" text-anchor="middle">600</text>
<text class="tk" x="206" y="153.9" text-anchor="middle">800</text>
<text class="tk" x="242.1" y="153.9" text-anchor="middle">1000</text>
<text class="lb" x="152.5" y="167" text-anchor="middle">episodes</text>
<text class="lb" transform="translate(16 81.5) rotate(-90)" text-anchor="middle">rewards</text>
<rect x="168.2" y="82.5" width="87.6" height="21.9" fill="#fff" stroke="#333" stroke-width="1.1"/>
<path d="M178.2 94.9H204" stroke="#2fb4ee" stroke-width="1.6"/>
<text class="lg" x="210" y="98.2">UAV1</text>
<text class="cp" x="128" y="198.3" text-anchor="middle">(a)</text>
<path d="M326.2 4.3V141.5M362.7 4.3V141.5M381 4.3V141.5M399.3 4.3V141.5M417.5 4.3V141.5M435.8 4.3V141.5M454.1 4.3V141.5M472.3 4.3V141.5M490.6 4.3V141.5M508.9 4.3V141.5M527.1 4.3V141.5M323.2 138.5H545.4M323.2 127.3H545.4M323.2 104.9H545.4M323.2 93.8H545.4M323.2 82.6H545.4M323.2 71.4H545.4M323.2 60.2H545.4M323.2 49H545.4M323.2 37.8H545.4M323.2 26.7H545.4M323.2 15.5H545.4M323.2 4.3H545.4" stroke="#d0d0d0" stroke-width="1.3" fill="none"/>
<path d="M344.5 4.3V141.5M323.2 116.1H545.4" stroke="#8c8c8c" stroke-width="1.4" fill="none"/>
<clipPath id="clipb"><rect x="326.2" y="4.3" width="219.2" height="134.2"/></clipPath>
<g clip-path="url(#clipb)"><polygon points="344.47,117.69 344.83,117.69 345.20,119.01 345.56,120.32 345.93,119.73 346.29,113.15 346.66,108.19 347.02,106.19 347.39,106.19 347.75,106.56 348.12,107.29 348.49,108.14 348.85,108.38 349.22,108.40 349.58,107.98 349.95,107.56 350.31,107.50 350.68,107.37 351.04,101.67 351.41,94.34 351.77,89.79 352.14,88.91 352.50,88.17 352.87,87.42 353.23,87.05 353.60,87.05 353.97,88.76 354.33,90.28 354.70,89.89 355.06,84.00 355.43,79.89 355.79,75.77 356.16,75.77 356.52,75.77 356.89,79.32 357.25,81.02 357.62,80.94 357.98,80.01 358.35,80.01 358.71,80.06 359.08,81.70 359.45,80.20 359.81,78.62 360.18,76.28 360.54,76.28 360.91,77.05 361.27,78.59 361.64,80.07 362.00,77.97 362.37,73.86 362.73,69.78 363.10,69.78 363.46,69.31 363.83,68.83 364.19,68.59 364.56,65.91 364.93,63.16 365.29,61.76 365.66,61.73 366.02,61.73 366.39,58.74 366.75,52.75 367.12,46.77 367.48,46.77 367.85,46.77 368.21,48.29 368.58,47.85 368.94,45.66 369.31,45.66 369.67,45.66 370.04,48.49 370.41,49.81 370.77,47.38 371.14,44.23 371.50,43.11 371.87,41.14 372.23,38.18 372.60,35.23 372.96,33.25 373.33,29.61 373.69,25.96 374.06,24.14 374.42,24.14 374.79,26.56 375.15,32.94 375.52,38.08 375.89,37.61 376.25,35.13 376.62,31.79 376.98,27.36 377.35,24.79 377.71,22.86 378.08,22.21 378.44,22.21 378.81,22.70 379.17,23.68 379.54,22.11 379.90,17.03 380.27,11.96 380.63,11.96 381.00,10.66 381.37,9.36 381.73,8.71 382.10,8.71 382.46,9.12 382.83,10.50 383.19,11.87 383.56,9.66 383.92,7.17 384.29,5.92 384.65,5.92 385.02,7.41 385.38,11.60 385.75,15.83 386.11,14.79 386.48,11.78 386.85,10.78 387.21,10.78 387.58,12.31 387.94,15.39 388.31,18.47 388.67,18.33 389.04,9.63 389.40,0.93 389.77,-3.27 390.13,-3.27 390.50,-1.26 390.86,2.77 391.23,6.80 391.59,6.80 391.96,7.80 392.33,9.16 392.69,10.36 393.06,9.69 393.42,6.92 393.79,4.16 394.15,4.16 394.52,4.16 394.88,6.66 395.25,9.16 395.61,10.41 395.98,6.42 396.34,1.84 396.71,-0.87 397.07,-1.05 397.44,-1.05 397.81,0.45 398.17,3.45 398.54,6.44 398.90,6.26 399.27,5.90 399.63,5.54 400.00,5.54 400.36,5.54 400.73,6.76 401.09,7.98 401.46,8.67 401.82,9.07 402.19,9.70 402.55,9.27 402.92,7.43 403.29,5.59 403.65,5.59 404.02,5.59 404.38,7.29 404.75,10.79 405.11,13.44 405.48,14.34 405.84,13.12 406.21,9.57 406.57,4.22 406.94,0.62 407.30,-0.78 407.67,-0.78 408.03,-0.78 408.40,2.23 408.77,5.25 409.13,6.76 409.50,9.74 409.86,15.11 410.23,20.47 410.59,20.17 410.96,20.17 411.32,21.70 411.69,21.07 412.05,17.07 412.42,9.86 412.78,8.67 413.15,8.67 413.51,8.67 413.88,10.02 414.25,13.23 414.61,16.80 414.98,16.75 415.34,14.88 415.71,14.23 416.07,14.23 416.44,10.46 416.80,2.94 417.17,-4.59 417.53,-4.59 417.90,-4.59 418.26,6.39 418.63,16.80 418.99,21.44 419.36,19.25 419.73,15.16 420.09,10.98 420.46,10.87 420.82,10.76 421.19,10.71 421.55,10.71 421.92,11.24 422.28,12.30 422.65,13.36 423.01,13.36 423.38,13.28 423.74,13.20 424.11,13.16 424.47,13.16 424.84,12.64 425.21,11.59 425.57,10.54 425.94,10.54 426.30,10.54 426.67,12.70 427.03,14.87 427.40,15.95 427.76,15.34 428.13,12.80 428.49,10.27 428.86,9.62 429.22,9.62 429.59,10.09 429.95,9.18 430.32,6.41 430.69,2.68 431.05,2.68 431.42,2.68 431.78,5.13 432.15,9.42 432.51,12.99 432.88,13.99 433.24,10.04 433.61,7.49 433.97,4.94 434.34,4.94 434.70,4.94 435.07,7.58 435.43,10.21 435.80,10.41 436.17,8.16 436.53,5.92 436.90,5.92 437.26,5.92 437.63,7.07 437.99,8.21 438.36,9.33 438.72,10.40 439.09,12.19 439.45,13.61 439.82,15.03 440.18,13.16 440.55,9.43 440.91,2.51 441.28,-3.88 441.65,-10.26 442.01,-10.26 442.38,-10.26 442.74,-3.23 443.11,4.59 443.47,12.42 443.84,13.13 444.20,12.26 444.57,9.07 444.93,9.07 445.30,9.73 445.66,11.13 446.03,11.77 446.39,9.83 446.76,7.52 447.13,7.52 447.49,7.52 447.86,8.32 448.22,9.12 448.59,11.33 448.95,15.33 449.32,19.71 449.68,18.42 450.05,22.23 450.41,18.67 450.78,13.50 451.14,10.43 451.51,10.43 451.87,11.01 452.24,12.19 452.61,14.23 452.97,15.09 453.34,15.53 453.70,15.71 454.07,12.21 454.43,8.71 454.80,6.77 455.16,6.77 455.53,7.91 455.89,10.18 456.26,13.34 456.62,13.79 456.99,13.05 457.35,9.51 457.72,7.31 458.09,6.22 458.45,6.22 458.82,7.60 459.18,10.37 459.55,13.14 459.91,12.74 460.28,11.94 460.64,11.15 461.01,11.15 461.37,7.82 461.74,4.49 462.10,2.83 462.47,1.37 462.83,-0.10 463.20,-0.83 463.57,-0.83 463.93,-0.75 464.30,-0.58 464.66,-0.42 465.03,2.40 465.39,5.85 465.76,9.31 466.12,8.22 466.49,8.22 466.85,8.33 467.22,8.53 467.58,8.74 467.95,9.26 468.31,10.28 468.68,11.31 469.05,11.31 469.41,16.46 469.78,21.55 470.14,21.50 470.51,16.32 470.87,11.16 471.24,11.16 471.60,10.56 471.97,9.96 472.33,9.66 472.70,9.66 473.06,11.29 473.43,13.52 473.79,15.75 474.16,15.23 474.53,14.62 474.89,13.39 475.26,10.31 475.62,8.46 475.99,7.53 476.35,7.53 476.72,8.10 477.08,7.54 477.45,5.27 477.81,1.86 478.18,1.86 478.54,1.86 478.91,9.20 479.27,17.06 479.64,21.40 480.01,20.55 480.37,18.06 480.74,15.17 481.10,13.72 481.47,12.45 481.83,11.18 482.20,10.55 482.56,5.80 482.93,1.05 483.29,-1.32 483.66,-1.32 484.02,1.30 484.39,6.68 484.75,12.20 485.12,12.01 485.49,11.09 485.85,10.17 486.22,10.17 486.58,10.17 486.95,14.58 487.31,19.97 487.68,21.42 488.04,23.65 488.41,23.82 488.77,23.98 489.14,20.40 489.50,18.91 489.87,14.88 490.23,14.88 490.60,14.88 490.97,17.31 491.33,18.20 491.70,17.87 492.06,17.10 492.43,13.72 492.79,6.96 493.16,0.21 493.52,0.21 493.89,0.21 494.25,7.59 494.62,14.96 494.98,18.65 495.35,17.54 495.71,14.37 496.08,10.71 496.45,10.71 496.81,10.71 497.18,14.09 497.54,16.27 497.91,16.16 498.27,14.03 498.64,11.89 499.00,10.83 499.37,9.53 499.73,8.23 500.10,7.58 500.46,7.58 500.83,8.11 501.19,9.16 501.56,10.21 501.93,11.93 502.29,13.34 502.66,13.57 503.02,12.93 503.39,12.93 503.75,12.93 504.12,15.84 504.48,18.12 504.85,18.63 505.21,18.63 505.58,18.63 505.94,20.29 506.31,19.12 506.67,22.63 507.04,15.31 507.41,7.45 507.77,7.45 508.14,6.37 508.50,5.29 508.87,4.75 509.23,4.75 509.60,6.13 509.96,8.88 510.33,11.63 510.69,10.38 511.06,7.89 511.42,3.51 511.79,1.63 512.15,0.68 512.52,0.68 512.89,2.79 513.25,7.01 513.62,7.88 513.98,4.54 514.35,2.87 514.71,2.87 515.08,4.37 515.44,7.36 515.81,10.36 516.17,13.04 516.54,14.32 516.90,14.96 517.27,13.57 517.63,13.57 518.00,14.19 518.37,15.42 518.73,12.77 519.10,5.03 519.46,-2.72 519.83,-2.72 520.19,-2.72 520.56,4.56 520.92,11.74 521.29,15.18 521.65,14.97 522.02,13.64 522.38,11.76 522.75,9.57 523.11,7.34 523.48,5.37 523.85,5.37 524.21,5.21 524.58,4.87 524.94,4.54 525.31,3.72 525.67,2.08 526.04,0.44 526.40,0.44 526.77,0.44 527.13,0.44 527.13,42.38 526.77,42.59 526.40,42.79 526.04,42.79 525.67,42.79 525.31,38.02 524.94,40.92 524.58,46.19 524.21,50.02 523.85,50.02 523.48,51.52 523.11,54.50 522.75,57.49 522.38,57.49 522.02,57.49 521.65,49.61 521.29,41.74 520.92,37.80 520.56,37.52 520.19,37.23 519.83,41.15 519.46,45.93 519.10,48.68 518.73,49.03 518.37,49.03 518.00,46.57 517.63,46.86 517.27,47.15 516.90,49.76 516.54,49.76 516.17,48.80 515.81,46.87 515.44,42.97 515.08,40.58 514.71,38.22 514.35,40.35 513.98,47.68 513.62,54.33 513.25,57.31 512.89,57.31 512.52,54.60 512.15,49.19 511.79,43.78 511.42,43.10 511.06,48.56 510.69,59.16 510.33,70.28 509.96,70.28 509.60,70.28 509.23,59.54 508.87,48.80 508.50,43.42 508.14,42.81 507.77,46.86 507.41,51.22 507.04,53.56 506.67,53.56 506.31,51.66 505.94,47.87 505.58,44.09 505.21,45.95 504.85,49.67 504.48,53.39 504.12,53.39 503.75,53.39 503.39,52.44 503.02,44.19 502.66,37.68 502.29,40.91 501.93,46.68 501.56,49.03 501.19,49.32 500.83,49.90 500.46,50.48 500.10,50.48 499.73,50.48 499.37,45.39 499.00,40.29 498.64,37.74 498.27,37.74 497.91,39.26 497.54,40.78 497.18,42.31 496.81,53.04 496.45,68.12 496.08,79.23 495.71,79.23 495.35,79.23 494.98,63.71 494.62,48.19 494.25,40.43 493.89,42.99 493.52,45.55 493.16,46.83 492.79,48.10 492.43,49.37 492.06,50.01 491.70,50.01 491.33,49.80 490.97,48.33 490.60,46.85 490.23,46.32 489.87,44.39 489.50,51.45 489.14,58.50 488.77,63.95 488.41,63.95 488.04,62.98 487.68,61.04 487.31,52.77 486.95,46.44 486.58,43.28 486.22,47.74 485.85,52.21 485.49,54.44 485.12,54.44 484.75,52.46 484.39,48.48 484.02,44.51 483.66,44.51 483.29,44.51 482.93,44.02 482.56,43.52 482.20,42.21 481.83,39.94 481.47,37.92 481.10,36.74 480.74,36.17 480.37,37.32 480.01,48.28 479.64,60.40 479.27,63.57 478.91,63.65 478.54,63.72 478.18,63.76 477.81,63.76 477.45,59.74 477.08,51.70 476.72,43.67 476.35,41.16 475.99,38.65 475.62,38.56 475.26,50.63 474.89,72.85 474.53,93.96 474.16,93.96 473.79,93.96 473.43,76.80 473.06,56.28 472.70,40.80 472.33,34.35 471.97,36.02 471.60,38.21 471.24,42.94 470.87,48.02 470.51,56.40 470.14,59.69 469.78,61.33 469.41,61.33 469.05,56.80 468.68,49.11 468.31,41.42 467.95,42.11 467.58,42.11 467.22,41.02 466.85,39.35 466.49,39.93 466.12,43.84 465.76,46.97 465.39,49.71 465.03,51.85 464.66,51.85 464.30,51.85 463.93,46.71 463.57,50.44 463.20,56.74 462.83,61.17 462.47,61.17 462.10,56.96 461.74,48.54 461.37,40.13 461.01,40.13 460.64,39.79 460.28,39.10 459.91,43.56 459.55,48.70 459.18,51.27 458.82,52.69 458.45,54.11 458.09,54.81 457.72,54.81 457.35,50.92 456.99,43.14 456.62,35.36 456.26,35.36 455.89,35.36 455.53,33.74 455.16,32.02 454.80,31.06 454.43,31.06 454.07,33.89 453.70,39.56 453.34,45.23 452.97,45.23 452.61,45.23 452.24,42.90 451.87,41.91 451.51,43.14 451.14,44.62 450.78,54.80 450.41,64.98 450.05,70.07 449.68,70.07 449.32,66.40 448.95,57.88 448.59,49.36 448.22,47.99 447.86,47.19 447.49,46.80 447.13,46.80 446.76,45.84 446.39,44.89 446.03,44.41 445.66,45.07 445.30,46.40 444.93,47.72 444.57,47.72 444.20,48.32 443.84,49.52 443.47,50.72 443.11,50.72 442.74,50.72 442.38,43.66 442.01,42.40 441.65,44.68 441.28,47.58 440.91,47.58 440.55,46.59 440.18,44.62 439.82,41.58 439.45,39.78 439.09,39.73 438.72,40.58 438.36,41.19 437.99,41.19 437.63,39.10 437.26,34.92 436.90,33.25 436.53,38.83 436.17,45.98 435.80,51.14 435.43,51.14 435.07,51.14 434.70,44.45 434.34,37.76 433.97,36.64 433.61,38.87 433.24,40.05 432.88,40.15 432.51,40.24 432.15,40.30 431.78,41.89 431.42,43.47 431.05,44.27 430.69,44.27 430.32,43.69 429.95,42.53 429.59,41.38 429.22,41.38 428.86,41.17 428.49,40.95 428.13,40.85 427.76,40.85 427.40,40.77 427.03,40.91 426.67,45.25 426.30,49.30 425.94,51.32 425.57,51.32 425.21,47.68 424.84,41.31 424.47,36.02 424.11,37.64 423.74,37.82 423.38,39.98 423.01,42.46 422.65,45.05 422.28,47.04 421.92,49.03 421.55,49.03 421.19,50.71 420.82,54.05 420.46,57.40 420.09,57.40 419.73,57.40 419.36,50.12 418.99,44.28 418.63,42.07 418.26,42.79 417.90,48.93 417.53,59.03 417.17,68.04 416.80,68.04 416.44,68.04 416.07,60.22 415.71,50.82 415.34,43.75 414.98,40.59 414.61,45.36 414.25,50.13 413.88,52.52 413.51,52.52 413.15,48.99 412.78,44.48 412.42,42.91 412.05,48.76 411.69,49.49 411.32,49.49 410.96,55.12 410.59,60.76 410.23,63.57 409.86,63.57 409.50,60.51 409.13,53.90 408.77,46.08 408.40,44.64 408.03,44.03 407.67,38.99 407.30,36.92 406.94,38.18 406.57,40.02 406.21,42.35 405.84,44.68 405.48,44.68 405.11,44.68 404.75,37.47 404.38,37.07 404.02,43.31 403.65,51.27 403.29,51.27 402.92,51.27 402.55,50.64 402.19,50.02 401.82,45.79 401.46,39.42 401.09,34.50 400.73,37.41 400.36,37.41 400.00,37.41 399.63,34.79 399.27,32.16 398.90,30.85 398.54,30.85 398.17,28.87 397.81,26.48 397.44,28.70 397.07,35.94 396.71,43.99 396.34,43.99 395.98,43.99 395.61,43.20 395.25,42.42 394.88,42.03 394.52,41.05 394.15,39.45 393.79,38.19 393.42,38.89 393.06,38.89 392.69,38.89 392.33,37.23 391.96,35.58 391.59,34.75 391.23,37.76 390.86,40.77 390.50,42.27 390.13,42.27 389.77,40.92 389.40,38.21 389.04,35.10 388.67,34.46 388.31,33.99 387.94,34.34 387.58,34.34 387.21,37.54 386.85,52.81 386.48,68.08 386.11,72.52 385.75,72.52 385.38,65.19 385.02,52.57 384.65,42.01 384.29,46.11 383.92,46.11 383.56,46.11 383.19,45.72 382.83,45.32 382.46,45.13 382.10,46.67 381.73,48.21 381.37,49.52 381.00,50.07 380.63,50.34 380.27,50.34 379.90,48.39 379.54,44.48 379.17,44.26 378.81,45.17 378.44,54.36 378.08,63.55 377.71,63.55 377.35,63.55 376.98,61.06 376.62,58.58 376.25,56.88 375.89,56.42 375.52,57.46 375.15,58.73 374.79,59.36 374.42,62.49 374.06,65.62 373.69,67.19 373.33,67.19 372.96,70.18 372.60,73.18 372.23,74.68 371.87,75.11 371.50,75.70 371.14,76.26 370.77,76.61 370.41,80.24 370.04,83.87 369.67,85.69 369.31,85.69 368.94,84.97 368.58,85.96 368.21,86.95 367.85,88.16 367.48,88.16 367.12,86.78 366.75,84.03 366.39,81.27 366.02,84.95 365.66,83.53 365.29,85.79 364.93,88.19 364.56,90.73 364.19,93.27 363.83,93.27 363.46,93.76 363.10,94.74 362.73,97.67 362.37,101.56 362.00,105.45 361.64,105.45 361.27,106.55 360.91,108.74 360.54,110.93 360.18,110.93 359.81,110.93 359.45,108.86 359.08,106.58 358.71,105.32 358.35,108.47 357.98,112.44 357.62,116.28 357.25,118.75 356.89,118.75 356.52,118.75 356.16,115.73 355.79,112.71 355.43,110.81 355.06,110.21 354.70,110.95 354.33,113.62 353.97,115.90 353.60,115.90 353.23,115.90 352.87,115.36 352.50,115.54 352.14,118.57 351.77,121.52 351.41,122.81 351.04,122.81 350.68,124.40 350.31,125.99 349.95,126.79 349.58,126.79 349.22,126.69 348.85,126.50 348.49,126.31 348.12,126.27 347.75,127.14 347.39,128.95 347.02,131.25 346.66,131.68 346.29,131.89 345.93,133.37 345.56,134.84 345.20,135.58 344.83,135.58 344.47,135.58" fill="#c8ecfb" opacity="0.6"/>
<polyline points="344.47,132.12 344.65,117.69 344.83,129.65 345.01,135.58 345.20,131.85 345.38,130.19 345.56,126.80 345.75,125.03 345.93,128.04 346.11,131.89 346.29,124.31 346.48,120.96 346.66,130.82 346.84,116.21 347.02,121.18 347.21,106.19 347.39,117.27 347.57,124.37 347.75,126.13 347.94,108.02 348.12,109.57 348.30,114.10 348.49,112.24 348.67,126.31 348.85,110.11 349.03,115.99 349.22,116.23 349.40,108.61 349.58,112.35 349.76,126.79 349.95,109.08 350.13,118.46 350.31,107.56 350.49,113.00 350.68,111.67 350.86,115.91 351.04,118.50 351.23,122.81 351.41,107.25 351.59,116.35 351.77,110.58 351.96,93.31 352.14,101.31 352.32,88.91 352.50,114.54 352.69,113.01 352.87,108.68 353.05,97.03 353.23,110.41 353.42,87.05 353.60,115.90 353.78,95.63 353.97,110.18 354.15,106.03 354.33,98.16 354.51,107.32 354.70,108.80 354.88,109.23 355.06,97.05 355.24,108.08 355.43,86.06 355.61,94.54 355.79,96.77 355.97,111.20 356.16,75.77 356.34,94.86 356.52,104.98 356.71,107.79 356.89,118.75 357.07,99.80 357.25,111.19 357.44,112.58 357.62,84.64 357.80,99.80 357.98,105.73 358.17,80.01 358.35,103.03 358.53,80.23 358.71,101.36 358.90,91.82 359.08,104.70 359.26,104.59 359.45,95.93 359.63,88.00 359.81,99.15 359.99,106.82 360.18,110.93 360.36,76.28 360.54,100.91 360.72,97.27 360.91,87.55 361.09,86.10 361.27,80.13 361.45,93.55 361.64,105.45 361.82,82.28 362.00,85.73 362.19,90.35 362.37,95.73 362.55,79.97 362.73,86.74 362.92,86.41 363.10,69.78 363.28,87.33 363.46,88.98 363.65,82.10 363.83,93.27 364.01,81.22 364.19,70.90 364.38,68.59 364.56,81.29 364.74,86.92 364.93,75.52 365.11,80.43 365.29,74.95 365.47,61.89 365.66,78.38 365.84,61.73 366.02,75.17 366.20,68.17 366.39,81.27 366.57,67.14 366.75,66.14 366.93,67.51 367.12,73.98 367.30,70.71 367.48,46.77 367.67,88.16 367.85,61.99 368.03,60.44 368.21,82.11 368.40,70.05 368.58,78.00 368.76,60.23 368.94,61.99 369.13,55.48 369.31,45.66 369.49,85.69 369.67,75.07 369.86,69.34 370.04,52.72 370.22,59.29 370.41,76.61 370.59,57.07 370.77,54.93 370.95,75.74 371.14,53.44 371.32,49.24 371.50,48.72 371.68,43.11 371.87,57.19 372.05,74.68 372.23,67.15 372.41,60.44 372.60,48.55 372.78,38.18 372.96,49.62 373.15,44.99 373.33,33.25 373.51,67.19 373.69,48.40 373.88,41.43 374.06,37.18 374.24,24.14 374.42,36.23 374.61,59.36 374.79,41.29 374.97,54.73 375.15,43.98 375.34,56.19 375.52,47.68 375.70,40.09 375.89,46.22 376.07,41.92 376.25,40.43 376.43,36.99 376.62,45.94 376.80,53.25 376.98,57.34 377.16,36.08 377.35,28.62 377.53,51.85 377.71,63.55 377.89,25.46 378.08,34.09 378.26,22.21 378.44,36.56 378.63,27.07 378.81,25.68 378.99,34.29 379.17,24.65 379.36,40.57 379.54,34.89 379.72,34.61 379.90,35.88 380.09,30.91 380.27,40.41 380.45,50.34 380.63,11.96 380.82,32.79 381.00,32.91 381.18,48.98 381.37,25.26 381.55,24.25 381.73,40.36 381.91,8.71 382.10,10.74 382.28,45.13 382.46,19.75 382.64,36.64 382.83,17.98 383.01,16.55 383.19,16.78 383.37,16.27 383.56,12.16 383.74,24.54 383.92,46.11 384.11,31.81 384.29,33.88 384.47,5.92 384.65,26.57 384.84,13.37 385.02,27.09 385.20,27.20 385.38,19.42 385.57,35.85 385.75,21.59 385.93,72.52 386.11,50.32 386.30,21.50 386.48,28.20 386.66,17.20 386.85,15.80 387.03,10.78 387.21,27.89 387.39,20.13 387.58,34.34 387.76,21.91 387.94,22.21 388.12,18.47 388.31,29.98 388.49,18.90 388.67,19.73 388.85,21.73 389.04,33.46 389.22,29.40 389.40,27.87 389.59,35.51 389.77,17.75 389.95,-3.27 390.13,22.19 390.32,42.27 390.50,30.38 390.68,28.81 390.86,20.47 391.05,24.74 391.23,6.80 391.41,24.66 391.59,28.48 391.78,9.31 391.96,34.75 392.14,18.62 392.33,12.65 392.51,29.45 392.69,20.52 392.87,29.73 393.06,38.89 393.24,25.73 393.42,11.07 393.60,27.12 393.79,26.80 393.97,37.15 394.15,4.16 394.33,34.23 394.52,31.02 394.70,32.24 394.88,17.70 395.07,42.03 395.25,37.76 395.43,23.66 395.61,40.37 395.80,10.41 395.98,12.19 396.16,12.57 396.34,43.99 396.53,19.72 396.71,23.86 396.89,1.03 397.07,-0.15 397.26,-1.05 397.44,16.29 397.62,11.85 397.81,17.57 397.99,16.86 398.17,21.51 398.35,25.90 398.54,23.20 398.72,6.44 398.90,30.85 399.08,6.88 399.27,19.40 399.45,15.53 399.63,25.41 399.81,24.75 400.00,5.54 400.18,28.40 400.36,37.41 400.55,21.42 400.73,30.14 400.91,8.60 401.09,18.18 401.28,8.99 401.46,14.06 401.64,21.65 401.82,10.17 402.01,17.12 402.19,10.23 402.37,49.71 402.55,23.17 402.74,13.62 402.92,29.77 403.10,45.08 403.29,51.27 403.47,36.10 403.65,5.59 403.83,13.58 404.02,9.84 404.20,17.55 404.38,18.59 404.56,24.96 404.75,14.51 404.93,26.65 405.11,19.75 405.29,14.34 405.48,44.68 405.66,23.43 405.84,25.59 406.03,30.77 406.21,23.57 406.39,38.86 406.57,35.49 406.76,25.37 406.94,8.22 407.12,9.01 407.30,2.72 407.49,26.01 407.67,-0.78 407.85,27.36 408.03,17.39 408.22,15.67 408.40,44.03 408.58,20.56 408.77,24.19 408.95,6.76 409.13,32.07 409.31,21.69 409.50,47.04 409.68,27.68 409.86,48.25 410.04,63.57 410.23,45.40 410.41,29.12 410.59,41.44 410.77,20.17 410.96,31.09 411.14,31.39 411.32,49.49 411.51,34.00 411.69,47.66 411.87,27.84 412.05,32.52 412.24,34.86 412.42,32.16 412.60,25.54 412.78,11.64 412.97,33.15 413.15,8.67 413.33,17.81 413.51,12.05 413.70,52.52 413.88,16.68 414.06,23.26 414.25,21.90 414.43,24.72 414.61,30.91 414.79,37.93 414.98,40.59 415.16,21.10 415.34,38.14 415.52,30.23 415.71,17.49 415.89,14.23 416.07,28.89 416.25,48.49 416.44,24.90 416.62,16.81 416.80,68.04 416.99,48.22 417.17,36.94 417.35,17.88 417.53,-4.59 417.72,24.40 417.90,27.24 418.08,42.79 418.26,24.28 418.45,38.25 418.63,28.30 418.81,25.22 418.99,29.98 419.18,24.45 419.36,21.44 419.54,35.61 419.73,39.20 419.91,26.34 420.09,57.40 420.27,42.49 420.46,10.98 420.64,36.31 420.82,12.14 421.00,33.40 421.19,14.59 421.37,10.71 421.55,49.03 421.73,37.86 421.92,30.50 422.10,20.69 422.28,44.05 422.47,42.07 422.65,17.95 422.83,38.07 423.01,13.36 423.20,17.69 423.38,33.46 423.56,29.51 423.74,37.64 423.93,21.44 424.11,31.95 424.29,13.16 424.47,33.12 424.66,15.38 424.84,29.25 425.02,19.20 425.21,17.18 425.39,14.73 425.57,15.50 425.75,51.32 425.94,10.54 426.12,31.96 426.30,41.19 426.48,40.13 426.67,40.05 426.85,27.75 427.03,33.66 427.21,30.01 427.40,15.95 427.58,40.02 427.76,37.41 427.95,18.62 428.13,40.85 428.31,20.05 428.49,31.81 428.68,37.61 428.86,12.87 429.04,9.62 429.22,27.07 429.41,25.89 429.59,41.38 429.77,27.58 429.95,29.52 430.14,33.08 430.32,26.92 430.50,12.01 430.69,21.73 430.87,44.27 431.05,2.68 431.23,15.58 431.42,36.14 431.60,8.80 431.78,40.30 431.96,18.01 432.15,24.96 432.33,40.16 432.51,22.31 432.69,26.66 432.88,27.93 433.06,39.98 433.24,24.07 433.43,23.16 433.61,11.32 433.79,15.04 433.97,14.39 434.16,34.41 434.34,4.94 434.52,18.64 434.70,21.16 434.89,25.63 435.07,28.01 435.25,11.53 435.43,51.14 435.62,21.37 435.80,38.25 435.98,35.78 436.17,23.69 436.35,22.11 436.53,27.16 436.71,26.49 436.90,5.92 437.08,28.40 437.26,30.74 437.44,25.68 437.63,24.54 437.81,8.79 437.99,23.56 438.17,41.19 438.36,37.42 438.54,11.48 438.72,16.50 438.91,36.48 439.09,36.51 439.27,16.73 439.45,38.15 439.64,25.32 439.82,15.03 440.00,18.97 440.18,39.98 440.37,22.96 440.55,42.64 440.73,26.43 440.91,33.53 441.10,47.58 441.28,5.70 441.46,27.17 441.65,15.65 441.83,28.01 442.01,-10.26 442.19,12.63 442.38,33.07 442.56,7.32 442.74,23.00 442.92,11.23 443.11,50.72 443.29,25.02 443.47,35.63 443.65,33.97 443.84,29.02 444.02,26.54 444.20,41.70 444.39,34.63 444.57,47.72 444.75,9.07 444.93,26.28 445.12,12.37 445.30,12.75 445.48,13.83 445.66,36.30 445.85,27.26 446.03,44.41 446.21,22.71 446.39,22.16 446.58,27.27 446.76,17.08 446.94,20.38 447.13,7.52 447.31,17.65 447.49,46.80 447.67,38.21 447.86,34.24 448.04,9.51 448.22,32.01 448.40,18.59 448.59,37.94 448.77,29.76 448.95,48.78 449.13,20.45 449.32,20.89 449.50,34.74 449.68,51.69 449.87,70.07 450.05,30.42 450.23,25.80 450.41,39.27 450.60,25.86 450.78,44.62 450.96,27.22 451.14,40.92 451.33,10.43 451.51,37.88 451.69,31.92 451.87,13.36 452.06,30.50 452.24,29.79 452.42,26.45 452.61,21.88 452.79,32.09 452.97,45.23 453.15,15.53 453.34,27.79 453.52,24.34 453.70,27.63 453.88,29.25 454.07,17.34 454.25,19.34 454.43,24.37 454.61,31.06 454.80,16.46 454.98,6.77 455.16,25.64 455.35,21.14 455.53,12.46 455.71,19.10 455.89,14.66 456.08,31.57 456.26,35.36 456.44,33.05 456.62,22.28 456.81,33.39 456.99,18.53 457.17,22.91 457.35,19.83 457.54,15.48 457.72,11.70 457.90,54.81 458.09,19.38 458.27,6.22 458.45,25.20 458.63,18.62 458.82,14.64 459.00,51.27 459.18,38.39 459.36,16.72 459.55,38.42 459.73,21.53 459.91,13.14 460.09,23.77 460.28,13.54 460.46,13.53 460.64,24.56 460.83,25.94 461.01,11.15 461.19,40.13 461.37,33.58 461.56,34.83 461.74,31.18 461.92,14.25 462.10,18.09 462.29,2.83 462.47,11.70 462.65,61.17 462.83,19.56 463.02,28.15 463.20,30.59 463.38,-0.83 463.57,38.99 463.75,8.84 463.93,24.17 464.11,18.86 464.30,29.51 464.48,-0.42 464.66,51.85 464.84,40.10 465.03,24.35 465.21,46.49 465.39,13.66 465.57,43.55 465.76,39.14 465.94,24.15 466.12,36.70 466.31,8.22 466.49,18.63 466.67,22.84 466.85,24.15 467.04,19.17 467.22,20.20 467.40,8.74 467.58,26.39 467.77,42.11 467.95,16.85 468.13,17.71 468.31,29.44 468.50,32.04 468.68,11.31 468.86,24.58 469.05,24.18 469.23,26.61 469.41,38.67 469.59,61.33 469.78,45.40 469.96,46.64 470.14,53.11 470.32,37.08 470.51,40.32 470.69,24.05 470.87,40.39 471.05,28.74 471.24,11.16 471.42,29.47 471.60,34.92 471.79,27.28 471.97,29.87 472.15,24.54 472.33,21.46 472.52,9.66 472.70,17.82 472.88,20.33 473.06,32.70 473.25,20.75 473.43,34.26 473.61,51.05 473.79,21.09 473.98,19.44 474.16,93.96 474.34,15.23 474.53,41.19 474.71,39.44 474.89,18.28 475.07,26.72 475.26,26.55 475.44,37.40 475.62,12.17 475.80,27.09 475.99,33.15 476.17,7.53 476.35,28.94 476.53,17.30 476.72,22.61 476.90,28.50 477.08,43.67 477.27,21.55 477.45,31.04 477.63,10.39 477.81,18.63 478.00,63.76 478.18,1.86 478.36,40.33 478.54,23.21 478.73,20.21 478.91,22.99 479.09,63.57 479.27,47.70 479.46,23.81 479.64,28.17 479.82,27.15 480.01,22.80 480.19,25.90 480.37,29.10 480.55,24.60 480.74,20.96 480.92,30.38 481.10,36.17 481.28,13.72 481.47,28.87 481.65,15.03 481.83,22.49 482.01,37.60 482.20,20.43 482.38,10.55 482.56,40.61 482.75,30.77 482.93,43.27 483.11,18.32 483.29,25.79 483.48,-1.32 483.66,44.51 483.84,11.79 484.02,20.03 484.21,18.18 484.39,27.02 484.57,19.12 484.75,27.90 484.94,31.69 485.12,18.36 485.30,54.44 485.49,12.47 485.67,32.79 485.85,30.18 486.03,18.74 486.22,10.17 486.40,18.73 486.58,27.05 486.76,43.28 486.95,27.89 487.13,24.75 487.31,36.97 487.49,42.32 487.68,23.65 487.86,24.92 488.04,59.10 488.23,39.31 488.41,24.06 488.59,63.95 488.77,35.82 488.96,33.11 489.14,28.48 489.32,36.69 489.50,32.57 489.69,32.93 489.87,30.77 490.05,25.83 490.23,14.88 490.42,46.32 490.60,41.78 490.78,28.76 490.97,26.82 491.15,26.49 491.33,20.96 491.51,24.50 491.70,49.00 491.88,50.01 492.06,28.56 492.24,17.10 492.43,23.08 492.61,26.83 492.79,20.64 492.97,46.83 493.16,37.74 493.34,36.36 493.52,0.21 493.71,25.82 493.89,33.53 494.07,31.38 494.25,37.15 494.44,40.43 494.62,18.65 494.80,38.26 494.98,21.05 495.17,32.34 495.35,27.80 495.53,22.78 495.71,79.23 495.90,57.54 496.08,45.35 496.26,37.58 496.45,10.71 496.63,33.70 496.81,24.89 496.99,41.54 497.18,27.81 497.36,35.92 497.54,23.83 497.72,32.48 497.91,30.97 498.09,22.16 498.27,16.16 498.45,37.74 498.64,19.75 498.82,22.55 499.00,17.49 499.19,10.83 499.37,28.98 499.55,32.36 499.73,23.19 499.92,13.24 500.10,50.48 500.28,7.58 500.46,21.00 500.65,41.16 500.83,28.92 501.01,35.85 501.19,10.21 501.38,49.03 501.56,37.29 501.74,33.40 501.93,34.59 502.11,26.24 502.29,18.38 502.47,27.39 502.66,30.91 502.84,14.51 503.02,29.71 503.20,29.86 503.39,12.93 503.57,27.57 503.75,51.03 503.93,23.50 504.12,53.39 504.30,39.70 504.48,32.99 504.67,24.04 504.85,21.79 505.03,26.39 505.21,18.63 505.40,19.79 505.58,33.05 505.76,44.09 505.94,25.75 506.13,42.12 506.31,31.25 506.49,37.63 506.67,33.43 506.86,53.56 507.04,34.88 507.22,39.84 507.41,37.83 507.59,28.46 507.77,7.45 507.95,28.68 508.14,39.33 508.32,41.89 508.50,11.79 508.68,28.36 508.87,43.42 509.05,4.75 509.23,20.40 509.41,29.67 509.60,40.98 509.78,42.77 509.96,70.28 510.15,44.59 510.33,36.41 510.51,11.63 510.69,34.98 510.88,24.81 511.06,13.87 511.24,33.73 511.42,14.99 511.61,40.39 511.79,5.40 511.97,43.78 512.15,32.20 512.34,0.68 512.52,37.97 512.70,26.62 512.89,34.63 513.07,57.31 513.25,30.90 513.43,42.41 513.62,11.58 513.80,38.29 513.98,11.22 514.16,38.98 514.35,19.14 514.53,2.87 514.71,34.52 514.89,28.49 515.08,15.57 515.26,35.20 515.44,10.36 515.63,13.58 515.81,22.10 515.99,44.80 516.17,44.94 516.36,30.74 516.54,25.05 516.72,49.76 516.90,23.77 517.09,25.92 517.27,20.52 517.45,13.57 517.63,25.82 517.82,24.89 518.00,36.70 518.18,16.65 518.37,25.09 518.55,49.03 518.73,39.53 518.91,47.25 519.10,18.63 519.28,36.25 519.46,29.18 519.64,32.78 519.83,-2.72 520.01,22.68 520.19,37.09 520.37,23.87 520.56,30.51 520.74,32.18 520.92,24.82 521.11,15.49 521.29,37.80 521.47,26.31 521.65,28.66 521.84,27.78 522.02,14.97 522.20,29.69 522.38,57.49 522.57,24.18 522.75,18.59 522.93,11.63 523.11,38.70 523.30,10.28 523.48,23.89 523.66,32.30 523.85,5.37 524.03,50.02 524.21,18.69 524.39,22.36 524.58,28.84 524.76,30.88 524.94,5.44 525.12,13.62 525.31,4.54 525.49,25.87 525.67,20.39 525.85,27.75 526.04,42.79 526.22,15.11 526.40,0.44 526.59,12.68 526.77,42.28 526.95,22.91 527.13,26.69" stroke="#9fd8f2" stroke-width="0.8" fill="none" opacity="0.24"/>
<polyline points="344.47,130.95 345.20,128.41 345.93,125.21 346.66,121.18 347.39,120.31 348.12,117.19 348.85,118.07 349.58,116.61 350.31,116.35 351.04,113.55 351.77,109.48 352.50,111.53 353.23,106.88 353.97,105.14 354.70,108.69 355.43,103.64 356.16,101.70 356.89,98.58 357.62,97.06 358.35,97.51 359.08,101.66 359.81,100.56 360.54,94.64 361.27,86.90 362.00,86.96 362.73,89.58 363.46,88.37 364.19,84.03 364.93,83.62 365.66,80.23 366.39,78.77 367.12,80.10 367.85,76.42 368.58,68.83 369.31,69.40 370.04,66.72 370.77,69.47 371.50,66.46 372.23,58.46 372.96,55.95 373.69,57.13 374.42,53.66 375.15,54.83 375.89,45.75 376.62,45.79 377.35,41.91 378.08,40.79 378.81,36.39 379.54,40.41 380.27,41.07 381.00,34.09 381.73,27.96 382.46,30.93 383.19,29.90 383.92,28.67 384.65,28.80 385.38,30.11 386.11,28.13 386.85,26.65 387.58,25.88 388.31,29.50 389.04,26.25 389.77,21.13 390.50,21.99 391.23,25.36 391.96,24.75 392.69,24.92 393.42,21.49 394.15,23.93 394.88,24.76 395.61,23.31 396.34,17.20 397.07,15.93 397.81,16.58 398.54,23.01 399.27,26.07 400.00,18.63 400.73,24.25 401.46,15.04 402.19,26.59 402.92,29.93 403.65,20.13 404.38,23.47 405.11,28.47 405.84,20.88 406.57,21.26 407.30,20.54 408.03,21.62 408.77,29.99 409.50,23.23 410.23,27.23 410.96,33.88 411.69,34.44 412.42,25.48 413.15,18.19 413.88,25.19 414.61,27.99 415.34,28.43 416.07,27.28 416.80,24.14 417.53,24.74 418.26,29.43 418.99,27.66 419.73,17.51 420.46,33.09 421.19,18.54 421.92,18.54 422.65,28.67 423.38,25.05 424.11,32.68 424.84,25.74 425.57,27.61 426.30,27.77 427.03,31.53 427.76,23.20 428.49,20.41 429.22,27.35 429.95,25.16 430.69,23.21 431.42,23.06 432.15,26.94 432.88,30.39 433.61,26.18 434.34,26.39 435.07,28.29 435.80,25.53 436.53,25.09 437.26,19.93 437.99,20.25 438.72,22.30 439.45,25.10 440.18,30.07 440.91,27.10 441.65,19.98 442.38,30.62 443.11,29.13 443.84,25.08 444.57,30.17 445.30,23.26 446.03,24.21 446.76,20.29 447.49,30.56 448.22,24.04 448.95,35.33 449.68,20.66 450.41,28.92 451.14,30.83 451.87,31.31 452.61,26.39 453.34,28.01 454.07,30.12 454.80,18.79 455.53,25.67 456.26,28.21 456.99,25.00 457.72,22.93 458.45,22.10 459.18,25.50 459.91,21.77 460.64,34.46 461.37,31.56 462.10,21.86 462.83,17.23 463.57,33.77 464.30,23.50 465.03,26.40 465.76,32.27 466.49,18.60 467.22,21.84 467.95,30.74 468.68,25.48 469.41,32.16 470.14,34.03 470.87,32.63 471.60,27.88 472.33,22.53 473.06,26.52 473.79,26.43 474.53,23.15 475.26,25.19 475.99,30.19 476.72,31.01 477.45,23.97 478.18,23.67 478.91,22.47 479.64,26.72 480.37,29.01 481.10,25.82 481.83,25.64 482.56,34.32 483.29,26.42 484.02,23.14 484.75,23.92 485.49,26.27 486.22,24.69 486.95,29.47 487.68,23.65 488.41,29.56 489.14,22.64 489.87,24.31 490.60,29.72 491.33,23.27 492.06,29.55 492.79,22.95 493.52,28.15 494.25,30.07 494.98,25.10 495.71,33.52 496.45,27.34 497.18,32.03 497.91,23.04 498.64,29.86 499.37,23.21 500.10,25.17 500.83,26.55 501.56,25.54 502.29,23.77 503.02,27.64 503.75,21.16 504.48,28.22 505.21,25.95 505.94,29.85 506.67,25.08 507.41,28.71 508.14,29.97 508.87,30.06 509.60,33.19 510.33,26.27 511.06,21.90 511.79,29.98 512.52,32.27 513.25,31.26 513.98,28.87 514.71,29.45 515.44,18.58 516.17,19.38 516.90,19.80 517.63,19.52 518.37,21.37 519.10,27.60 519.83,24.48 520.56,26.79 521.29,25.13 522.02,24.72 522.75,25.75 523.48,21.47 524.21,25.43 524.94,21.38 525.67,19.97 526.40,14.06 527.13,31.39" stroke="#2fb4ee" stroke-width="2.1" fill="none" stroke-linejoin="round"/></g>
<text class="tk" x="319.8" y="131.6" text-anchor="end">10</text>
<text class="tk" transform="translate(307.3 131.6) scale(1.35 1)" text-anchor="end">−</text>
<text class="tk" x="319.8" y="109.2" text-anchor="end">10</text>
<text class="tk" x="319.8" y="86.9" text-anchor="end">30</text>
<text class="tk" x="319.8" y="64.5" text-anchor="end">50</text>
<text class="tk" x="319.8" y="42.1" text-anchor="end">70</text>
<text class="tk" x="319.8" y="19.8" text-anchor="end">90</text>
<text class="tk" x="344.5" y="154.2" text-anchor="middle">0</text>
<text class="tk" x="381" y="154.2" text-anchor="middle">200</text>
<text class="tk" x="417.5" y="154.2" text-anchor="middle">400</text>
<text class="tk" x="454.1" y="154.2" text-anchor="middle">600</text>
<text class="tk" x="490.6" y="154.2" text-anchor="middle">800</text>
<text class="tk" x="527.1" y="154.2" text-anchor="middle">1000</text>
<text class="lb" x="436.2" y="166.5" text-anchor="middle">episodes</text>
<text class="lb" transform="translate(300.9 81) rotate(-90)" text-anchor="middle">rewards</text>
<rect x="450.5" y="89.7" width="87.5" height="21.3" fill="#fff" stroke="#333" stroke-width="1.1"/>
<path d="M460 101.9H486.3" stroke="#2fb4ee" stroke-width="1.6"/>
<text class="lg" x="492" y="105">UAV2</text>
<text class="cp" x="413.6" y="198.3" text-anchor="middle">(b)</text>
<path d="M40.3 213.8V351.9M76.8 213.8V351.9M95 213.8V351.9M113.3 213.8V351.9M131.6 213.8V351.9M149.8 213.8V351.9M168.1 213.8V351.9M186.3 213.8V351.9M204.6 213.8V351.9M222.8 213.8V351.9M241.1 213.8V351.9M37.3 348.9H259.3M37.3 337.6H259.3M37.3 315.1H259.3M37.3 303.9H259.3M37.3 292.6H259.3M37.3 281.4H259.3M37.3 270.1H259.3M37.3 258.8H259.3M37.3 247.6H259.3M37.3 236.3H259.3M37.3 225.1H259.3M37.3 213.8H259.3" stroke="#d0d0d0" stroke-width="1.3" fill="none"/>
<path d="M58.5 213.8V351.9M37.3 326.4H259.3" stroke="#8c8c8c" stroke-width="1.4" fill="none"/>
<clipPath id="clipc"><rect x="40.3" y="213.8" width="219" height="135.1"/></clipPath>
<g clip-path="url(#clipc)"><polygon points="58.55,336.74 58.91,331.92 59.28,325.15 59.64,320.09 60.01,320.09 60.38,320.09 60.74,320.72 61.10,318.89 61.47,314.02 61.83,307.99 62.20,307.99 62.56,307.99 62.93,308.89 63.30,309.53 63.66,307.50 64.02,305.01 64.39,304.03 64.75,299.35 65.12,290.00 65.48,280.64 65.85,280.64 66.22,280.64 66.58,286.69 66.94,292.74 67.31,295.76 67.67,295.76 68.04,300.53 68.41,302.07 68.77,300.69 69.13,297.87 69.50,296.66 69.86,288.57 70.23,274.10 70.59,260.41 70.96,260.41 71.32,260.41 71.69,269.93 72.05,282.82 72.42,291.21 72.78,291.88 73.15,289.06 73.51,286.24 73.88,286.24 74.25,286.24 74.61,291.40 74.97,296.49 75.34,294.55 75.70,295.96 76.07,289.46 76.44,280.18 76.80,272.02 77.16,272.02 77.53,272.02 77.89,277.33 78.26,281.19 78.62,282.39 78.99,279.25 79.35,274.44 79.72,269.63 80.08,269.45 80.45,268.72 80.81,267.60 81.18,266.84 81.54,266.84 81.91,266.84 82.28,270.85 82.64,274.68 83.00,275.38 83.37,268.59 83.73,262.64 84.10,259.90 84.47,259.90 84.83,261.22 85.19,262.37 85.56,260.59 85.92,254.66 86.29,248.84 86.66,244.98 87.02,243.37 87.38,241.77 87.75,240.97 88.11,240.97 88.48,241.06 88.84,241.24 89.21,239.13 89.57,234.54 89.94,229.96 90.30,229.96 90.67,229.36 91.03,228.16 91.40,226.96 91.76,226.96 92.13,226.96 92.50,228.95 92.86,229.79 93.22,229.63 93.59,229.05 93.95,229.05 94.32,226.95 94.69,224.85 95.05,223.80 95.41,223.80 95.78,224.11 96.14,224.73 96.51,223.41 96.88,219.53 97.24,215.65 97.60,215.65 97.97,215.65 98.33,218.25 98.70,220.41 99.06,218.28 99.43,215.07 99.79,213.57 100.16,213.57 100.53,215.04 100.89,217.99 101.25,220.94 101.62,221.20 101.98,216.27 102.35,211.33 102.72,208.60 103.08,208.60 103.44,212.75 103.81,222.98 104.17,232.63 104.54,232.73 104.91,229.78 105.27,226.83 105.63,225.36 106.00,225.25 106.36,225.04 106.73,224.84 107.09,224.84 107.46,224.84 107.82,225.62 108.19,227.27 108.55,222.02 108.92,212.64 109.28,205.84 109.65,205.84 110.02,205.84 110.38,207.30 110.74,208.76 111.11,210.87 111.47,213.78 111.84,218.15 112.20,219.70 112.57,220.42 112.94,220.42 113.30,221.30 113.66,222.18 114.03,218.16 114.39,213.70 114.76,211.47 115.12,211.47 115.49,213.64 115.85,217.98 116.22,214.41 116.58,206.52 116.95,202.57 117.31,202.57 117.68,204.88 118.05,209.50 118.41,214.12 118.77,214.12 119.14,214.12 119.50,216.27 119.87,220.00 120.23,225.53 120.60,224.37 120.96,221.22 121.33,217.15 121.69,211.84 122.06,206.53 122.42,204.90 122.79,204.90 123.16,204.18 123.52,202.74 123.88,201.30 124.25,201.30 124.61,201.30 124.98,209.23 125.34,215.75 125.71,217.60 126.07,217.60 126.44,217.60 126.80,218.43 127.17,218.93 127.53,216.17 127.90,213.49 128.26,212.16 128.63,212.16 129.00,215.01 129.36,220.28 129.72,225.55 130.09,225.33 130.45,225.33 130.82,222.91 131.19,215.94 131.55,206.87 131.91,202.64 132.28,202.64 132.64,202.64 133.01,211.47 133.38,220.29 133.74,219.51 134.10,209.14 134.47,198.76 134.83,198.76 135.20,198.76 135.56,205.52 135.93,212.22 136.30,215.52 136.66,215.52 137.02,215.52 137.39,213.77 137.75,210.49 138.12,207.32 138.49,207.32 138.85,207.32 139.21,209.48 139.58,211.65 139.94,212.98 140.31,214.53 140.68,217.14 141.04,222.01 141.41,224.78 141.77,226.16 142.13,225.87 142.50,223.34 142.87,222.81 143.23,222.16 143.59,221.45 143.96,220.05 144.32,218.65 144.69,218.65 145.06,218.25 145.42,217.85 145.78,217.65 146.15,217.65 146.51,217.35 146.88,216.76 147.25,214.74 147.61,213.31 147.97,212.59 148.34,212.59 148.70,214.54 149.07,219.05 149.44,224.20 149.80,221.85 150.16,215.51 150.53,208.25 150.89,202.78 151.26,202.78 151.62,202.78 151.99,210.92 152.35,219.06 152.72,223.13 153.08,222.53 153.45,221.33 153.81,218.33 154.18,216.53 154.54,214.24 154.91,211.45 155.27,208.67 155.64,208.67 156.00,208.67 156.37,211.69 156.74,215.85 157.10,219.09 157.46,219.16 157.83,219.16 158.19,219.91 158.56,220.49 158.93,220.51 159.29,220.16 159.66,220.16 160.02,220.16 160.38,224.17 160.75,223.93 161.12,217.43 161.48,208.91 161.84,208.91 162.21,208.91 162.57,212.99 162.94,217.07 163.31,221.22 163.67,222.06 164.03,219.51 164.40,212.73 164.76,212.73 165.13,211.45 165.50,208.89 165.86,206.33 166.22,206.33 166.59,206.33 166.95,210.18 167.32,214.03 167.69,216.33 168.05,217.08 168.42,217.82 168.78,216.69 169.14,215.01 169.51,213.64 169.88,213.64 170.24,213.64 170.61,218.21 170.97,218.36 171.33,216.27 171.70,214.01 172.06,214.01 172.43,215.56 172.80,218.39 173.16,221.21 173.52,221.07 173.89,221.07 174.25,221.16 174.62,221.35 174.99,221.54 175.35,218.85 175.71,216.17 176.08,214.82 176.44,213.24 176.81,210.08 177.18,206.92 177.54,206.92 177.90,206.92 178.27,210.86 178.63,213.66 179.00,213.88 179.37,213.78 179.73,213.69 180.09,213.69 180.46,213.69 180.82,213.79 181.19,215.40 181.56,217.13 181.92,220.30 182.28,221.41 182.65,220.48 183.01,220.48 183.38,220.48 183.75,223.88 184.11,227.28 184.47,228.98 184.84,228.98 185.20,228.65 185.57,228.00 185.94,223.35 186.30,219.36 186.67,217.36 187.03,217.36 187.39,220.41 187.76,226.50 188.12,232.88 188.49,234.41 188.86,233.59 189.22,232.18 189.58,230.53 189.95,229.12 190.31,221.58 190.68,213.37 191.05,208.24 191.41,208.24 191.77,208.24 192.14,213.73 192.50,219.32 192.87,221.54 193.24,219.74 193.60,218.83 193.96,215.00 194.33,208.24 194.69,201.48 195.06,201.48 195.43,201.48 195.79,206.06 196.15,209.82 196.52,210.92 196.88,210.89 197.25,210.89 197.62,211.05 197.98,211.36 198.34,212.32 198.71,213.64 199.07,215.45 199.44,214.39 199.81,212.29 200.17,212.29 200.53,212.29 200.90,215.34 201.26,218.81 201.63,221.20 202.00,222.07 202.36,221.68 202.72,221.30 203.09,221.11 203.45,221.06 203.82,220.95 204.19,220.85 204.55,220.85 204.92,220.85 205.28,221.46 205.64,214.73 206.01,207.54 206.38,204.02 206.74,204.02 207.11,205.70 207.47,209.06 207.83,212.42 208.20,212.42 208.56,218.02 208.93,223.61 209.30,225.48 209.66,224.84 210.02,230.39 210.39,231.12 210.75,233.79 211.12,228.41 211.49,228.72 211.85,222.31 212.21,216.47 212.58,212.06 212.94,210.55 213.31,210.55 213.68,208.77 214.04,206.98 214.40,206.08 214.77,206.08 215.13,206.59 215.50,207.59 215.87,208.59 216.23,208.59 216.59,210.74 216.96,215.03 217.32,219.33 217.69,218.75 218.06,217.57 218.42,216.40 218.78,216.40 219.15,216.40 219.51,218.54 219.88,221.89 220.25,224.77 220.61,223.73 220.97,221.66 221.34,219.59 221.70,219.59 222.07,219.59 222.44,222.25 222.80,221.64 223.17,216.45 223.53,209.93 223.89,209.93 224.26,209.93 224.62,214.27 224.99,218.62 225.36,220.80 225.72,223.74 226.08,226.06 226.45,224.06 226.81,220.71 227.18,217.82 227.55,216.20 227.91,216.20 228.27,216.20 228.64,215.82 229.00,212.46 229.37,207.80 229.74,207.80 230.10,207.80 230.46,210.41 230.83,213.01 231.19,218.05 231.56,221.78 231.93,223.65 232.29,224.15 232.65,224.79 233.02,222.92 233.38,218.81 233.75,214.10 234.12,210.55 234.48,210.55 234.84,210.55 235.21,212.14 235.57,213.73 235.94,214.53 236.31,214.53 236.67,217.73 237.03,224.13 237.40,230.52 237.76,227.99 238.13,229.62 238.50,225.64 238.86,221.17 239.22,215.17 239.59,209.31 239.95,206.46 240.32,206.46 240.69,207.76 241.05,210.37 241.05,245.31 240.69,245.31 240.32,245.31 239.95,244.62 239.59,245.58 239.22,248.01 238.86,252.96 238.50,254.54 238.13,255.33 237.76,255.33 237.40,254.19 237.03,251.61 236.67,248.72 236.31,248.13 235.94,248.13 235.57,246.34 235.21,244.55 234.84,244.71 234.48,251.23 234.12,257.75 233.75,259.96 233.38,259.96 233.02,257.99 232.65,254.06 232.29,248.18 231.93,246.16 231.56,246.02 231.19,249.78 230.83,249.78 230.46,249.78 230.10,248.14 229.74,246.87 229.37,246.78 229.00,247.51 228.64,250.95 228.27,254.38 227.91,256.10 227.55,256.10 227.18,256.04 226.81,255.91 226.45,256.63 226.08,258.33 225.72,260.02 225.36,260.02 224.99,260.02 224.62,257.67 224.26,255.33 223.89,252.94 223.53,251.74 223.17,261.83 222.80,278.41 222.44,292.61 222.07,292.61 221.70,292.61 221.34,271.74 220.97,251.61 220.61,242.31 220.25,242.83 219.88,243.87 219.51,244.91 219.15,244.91 218.78,244.91 218.42,241.72 218.06,238.53 217.69,244.73 217.32,256.11 216.96,265.39 216.59,265.39 216.23,265.39 215.87,263.22 215.50,255.33 215.13,248.27 214.77,244.90 214.40,243.95 214.04,243.19 213.68,242.54 213.31,242.78 212.94,242.78 212.58,242.78 212.21,243.21 211.85,248.32 211.49,258.58 211.12,271.86 210.75,285.18 210.39,295.98 210.02,295.98 209.66,295.98 209.30,275.84 208.93,255.87 208.56,246.05 208.20,249.85 207.83,253.64 207.47,255.54 207.11,255.54 206.74,254.57 206.38,254.81 206.01,255.06 205.64,256.16 205.28,256.16 204.92,255.07 204.55,252.90 204.19,250.73 203.82,250.73 203.45,250.34 203.09,249.57 202.72,248.80 202.36,248.93 202.00,249.06 201.63,249.12 201.26,249.12 200.90,247.75 200.53,245.00 200.17,242.24 199.81,240.14 199.44,235.63 199.07,236.47 198.71,248.01 198.34,260.58 197.98,260.58 197.62,260.58 197.25,259.02 196.88,257.46 196.52,256.68 196.15,255.44 195.79,255.30 195.43,257.50 195.06,262.17 194.69,262.17 194.33,262.17 193.96,265.79 193.60,269.41 193.24,271.22 192.87,271.22 192.50,265.83 192.14,256.54 191.77,248.89 191.41,255.95 191.05,263.69 190.68,271.43 190.31,271.43 189.95,271.43 189.58,265.37 189.22,259.61 188.86,257.15 188.49,257.73 188.12,257.73 187.76,257.73 187.39,255.11 187.03,252.49 186.67,251.19 186.30,249.04 185.94,246.89 185.57,246.63 185.20,248.26 184.84,249.89 184.47,249.89 184.11,249.89 183.75,246.27 183.38,248.00 183.01,254.02 182.65,261.96 182.28,261.96 181.92,261.96 181.56,254.48 181.19,243.56 180.82,241.31 180.46,247.53 180.09,250.93 179.73,250.93 179.37,252.62 179.00,254.32 178.63,255.17 178.27,255.17 177.90,252.85 177.54,248.21 177.18,243.58 176.81,244.19 176.44,245.50 176.08,255.37 175.71,264.02 175.35,268.27 174.99,268.27 174.62,265.56 174.25,260.14 173.89,254.72 173.52,254.72 173.16,254.72 172.80,252.34 172.43,249.96 172.06,256.67 171.70,269.26 171.33,280.22 170.97,280.22 170.61,280.22 170.24,270.04 169.88,259.60 169.51,253.99 169.14,253.47 168.78,253.47 168.42,254.23 168.05,255.76 167.69,257.28 167.32,257.28 166.95,259.21 166.59,261.15 166.22,262.12 165.86,262.12 165.50,258.35 165.13,251.34 164.76,246.03 164.40,248.00 164.03,248.84 163.67,248.84 163.31,247.68 162.94,247.88 162.57,248.08 162.21,249.34 161.84,249.34 161.48,248.24 161.12,245.59 160.75,242.50 160.38,241.62 160.02,241.62 159.66,244.28 159.29,249.61 158.93,254.94 158.56,259.20 158.19,263.46 157.83,265.59 157.46,265.59 157.10,261.77 156.74,254.14 156.37,244.99 156.00,239.70 155.64,235.11 155.27,235.82 154.91,237.90 154.54,239.81 154.18,241.68 153.81,242.75 153.45,242.75 153.08,243.43 152.72,244.79 152.35,246.16 151.99,246.33 151.62,246.68 151.26,247.03 150.89,247.03 150.53,247.03 150.16,245.86 149.80,251.66 149.44,258.05 149.07,261.53 148.70,261.53 148.34,259.22 147.97,260.84 147.61,262.46 147.25,265.59 146.88,265.59 146.51,262.33 146.15,255.80 145.78,249.28 145.42,249.28 145.06,247.67 144.69,247.44 144.32,248.71 143.96,248.95 143.59,249.43 143.23,249.91 142.87,249.91 142.50,249.91 142.13,247.83 141.77,248.30 141.41,252.69 141.04,259.20 140.68,259.20 140.31,259.20 139.94,248.74 139.58,244.61 139.21,245.71 138.85,250.90 138.49,252.93 138.12,253.94 137.75,253.94 137.39,253.01 137.02,251.15 136.66,252.54 136.30,258.15 135.93,263.34 135.56,263.34 135.20,263.34 134.83,258.40 134.47,250.48 134.10,243.38 133.74,238.75 133.38,240.86 133.01,242.31 132.64,243.03 132.28,251.30 131.91,259.57 131.55,263.71 131.19,263.71 130.82,260.00 130.45,252.85 130.09,245.97 129.72,246.52 129.36,246.52 129.00,246.52 128.63,243.79 128.26,241.07 127.90,239.76 127.53,241.37 127.17,244.54 126.80,247.68 126.44,247.91 126.07,248.36 125.71,249.11 125.34,249.71 124.98,252.24 124.61,256.10 124.25,259.96 123.88,259.96 123.52,259.96 123.16,259.93 122.79,259.90 122.42,254.69 122.06,253.50 121.69,252.31 121.33,257.28 120.96,258.03 120.60,258.78 120.23,258.78 119.87,258.78 119.50,253.66 119.14,250.89 118.77,251.85 118.41,251.85 118.05,251.85 117.68,247.33 117.31,242.80 116.95,241.38 116.58,243.06 116.22,244.75 115.85,244.75 115.49,244.75 115.12,244.35 114.76,242.94 114.39,250.27 114.03,262.16 113.66,273.47 113.30,273.47 112.94,273.47 112.57,262.72 112.20,251.97 111.84,247.41 111.47,248.22 111.11,248.63 110.74,248.63 110.38,248.08 110.02,252.15 109.65,256.23 109.28,258.81 108.92,258.81 108.55,259.27 108.19,259.73 107.82,259.95 107.46,259.95 107.09,257.94 106.73,253.91 106.36,250.27 106.00,250.70 105.63,254.53 105.27,258.59 104.91,261.08 104.54,261.08 104.17,261.08 103.81,259.20 103.44,257.31 103.08,255.53 102.72,250.77 102.35,252.45 101.98,258.18 101.62,260.58 101.25,260.58 100.89,259.94 100.53,258.66 100.16,257.38 99.79,256.72 99.43,255.40 99.06,254.35 98.70,259.88 98.33,267.89 97.97,267.89 97.60,267.89 97.24,265.10 96.88,262.32 96.51,261.79 96.14,263.54 95.78,265.28 95.41,265.28 95.05,265.28 94.69,264.81 94.32,264.34 93.95,262.04 93.59,257.92 93.22,253.80 92.86,256.04 92.50,259.99 92.13,264.55 91.76,267.99 91.40,267.99 91.03,267.99 90.67,266.75 90.30,265.50 89.94,265.65 89.57,267.18 89.21,276.35 88.84,283.98 88.48,287.80 88.11,287.80 87.75,287.10 87.38,285.70 87.02,285.00 86.66,286.38 86.29,287.77 85.92,287.77 85.56,287.77 85.19,287.68 84.83,287.60 84.47,287.55 84.10,287.55 83.73,287.08 83.37,288.93 83.00,291.73 82.64,293.75 82.28,293.75 81.91,293.75 81.54,302.94 81.18,312.13 80.81,316.73 80.45,316.73 80.08,315.74 79.72,314.04 79.35,314.77 78.99,320.83 78.62,326.74 78.26,327.43 77.89,327.59 77.53,333.08 77.16,338.49 76.80,341.20 76.44,341.20 76.07,337.88 75.70,331.23 75.34,325.50 74.97,329.99 74.61,335.80 74.25,336.95 73.88,339.25 73.51,341.56 73.15,341.56 72.78,341.56 72.42,338.75 72.05,335.94 71.69,334.04 71.32,333.87 70.96,334.10 70.59,334.63 70.23,342.48 69.86,357.36 69.50,371.98 69.13,371.98 68.77,371.98 68.41,361.84 68.04,353.51 67.67,354.30 67.31,361.27 66.94,361.27 66.58,361.27 66.22,360.92 65.85,361.07 65.48,361.65 65.12,361.65 64.75,361.65 64.39,356.28 64.02,350.05 63.66,346.08 63.30,346.08 62.93,346.56 62.56,347.56 62.20,348.36 61.83,348.56 61.47,348.56 61.10,346.81 60.74,344.05 60.38,344.47 60.01,350.31 59.64,356.20 59.28,359.87 58.91,363.55 58.55,363.55" fill="#c8ecfb" opacity="0.6"/>
<polyline points="58.55,363.55 58.73,348.09 58.91,337.02 59.10,340.80 59.28,354.36 59.46,344.88 59.64,343.58 59.83,328.45 60.01,320.09 60.19,320.24 60.38,339.16 60.56,323.07 60.74,329.42 60.92,336.71 61.10,339.77 61.29,328.83 61.47,328.24 61.65,348.56 61.83,347.53 62.02,347.05 62.20,307.99 62.38,336.83 62.56,329.61 62.75,310.23 62.93,310.38 63.11,320.09 63.30,321.17 63.48,346.08 63.66,335.85 63.84,331.74 64.02,319.25 64.21,342.58 64.39,308.96 64.57,304.03 64.75,319.30 64.94,350.37 65.12,361.65 65.30,319.30 65.48,359.13 65.67,323.67 65.85,280.64 66.03,327.32 66.22,346.54 66.40,314.03 66.58,329.40 66.76,324.01 66.94,361.27 67.13,339.29 67.31,295.76 67.49,333.83 67.67,341.06 67.86,324.16 68.04,324.78 68.22,309.10 68.41,316.45 68.59,307.70 68.77,346.63 68.95,339.03 69.13,371.98 69.32,299.59 69.50,335.31 69.68,335.43 69.86,296.96 70.05,296.59 70.23,326.00 70.41,324.22 70.59,334.10 70.78,292.67 70.96,260.41 71.14,332.50 71.32,284.21 71.51,291.97 71.69,328.61 71.87,308.08 72.05,316.45 72.24,330.03 72.42,334.54 72.60,293.29 72.78,302.75 72.97,320.22 73.15,341.56 73.33,325.86 73.51,317.40 73.70,303.56 73.88,286.24 74.06,317.99 74.25,335.80 74.43,301.88 74.61,309.64 74.79,317.96 74.97,299.31 75.16,302.39 75.34,299.66 75.52,306.29 75.70,298.96 75.89,306.12 76.07,324.58 76.25,295.21 76.44,315.39 76.62,341.20 76.80,309.99 76.98,289.64 77.16,272.02 77.35,327.67 77.53,297.10 77.71,325.07 77.89,292.74 78.08,327.27 78.26,324.62 78.44,301.07 78.62,285.30 78.81,312.48 78.99,294.58 79.17,281.66 79.35,299.06 79.54,290.13 79.72,301.11 79.90,311.80 80.08,269.63 80.27,292.90 80.45,295.10 80.63,316.73 80.81,290.20 81.00,275.48 81.18,268.75 81.36,287.22 81.54,266.84 81.73,288.66 81.91,288.22 82.09,277.92 82.28,293.75 82.46,290.61 82.64,286.80 82.82,276.86 83.00,281.37 83.19,285.93 83.37,282.78 83.55,284.33 83.73,275.98 83.92,273.59 84.10,282.00 84.28,259.90 84.47,287.55 84.65,281.35 84.83,282.18 85.01,275.19 85.19,274.55 85.38,266.51 85.56,281.01 85.74,271.50 85.92,287.77 86.11,262.77 86.29,278.15 86.47,256.30 86.66,254.64 86.84,269.59 87.02,244.98 87.20,268.00 87.38,284.30 87.57,252.41 87.75,258.01 87.93,240.97 88.11,276.83 88.30,287.80 88.48,253.32 88.66,263.48 88.84,268.71 89.03,257.88 89.21,241.42 89.39,254.57 89.57,245.21 89.76,256.67 89.94,264.88 90.12,251.33 90.30,229.96 90.49,232.86 90.67,243.35 90.85,250.01 91.03,250.61 91.22,243.90 91.40,267.99 91.58,256.58 91.76,226.96 91.95,259.39 92.13,250.10 92.31,248.45 92.50,247.40 92.68,236.64 92.86,253.22 93.04,237.80 93.22,245.32 93.41,231.94 93.59,253.80 93.77,229.05 93.95,245.33 94.14,251.82 94.32,252.77 94.50,264.10 94.69,233.24 94.87,251.99 95.05,235.81 95.23,223.80 95.41,265.28 95.60,241.32 95.78,248.88 95.96,243.93 96.14,240.95 96.33,260.92 96.51,237.20 96.69,249.52 96.88,225.35 97.06,249.67 97.24,245.22 97.42,241.12 97.60,215.65 97.79,244.91 97.97,267.89 98.15,232.10 98.33,241.64 98.52,238.49 98.70,229.19 98.88,222.14 99.06,240.66 99.25,237.42 99.43,228.20 99.61,221.07 99.79,254.08 99.98,213.57 100.16,251.07 100.34,257.38 100.53,231.59 100.71,244.70 100.89,247.38 101.07,220.94 101.25,222.27 101.44,260.58 101.62,248.59 101.80,228.77 101.98,225.57 102.17,240.36 102.35,231.68 102.53,235.22 102.72,224.58 102.90,208.60 103.08,229.37 103.26,235.60 103.44,252.15 103.63,256.37 103.81,251.15 103.99,237.75 104.17,246.54 104.36,254.94 104.54,261.08 104.72,258.74 104.91,232.73 105.09,236.38 105.27,250.95 105.45,250.76 105.63,246.40 105.82,225.36 106.00,227.68 106.18,249.88 106.36,233.42 106.55,243.68 106.73,227.13 106.91,227.17 107.09,224.84 107.28,235.07 107.46,226.79 107.64,259.95 107.82,237.96 108.01,234.40 108.19,237.84 108.37,237.02 108.55,244.24 108.74,239.08 108.92,231.80 109.10,258.81 109.28,226.15 109.47,219.51 109.65,205.84 109.83,209.46 110.02,245.88 110.20,226.16 110.38,224.91 110.56,209.50 110.74,216.32 110.93,248.63 111.11,216.78 111.29,234.45 111.47,228.34 111.66,233.82 111.84,223.18 112.02,234.39 112.20,227.91 112.39,246.59 112.57,220.42 112.75,223.64 112.94,236.94 113.12,227.54 113.30,273.47 113.48,251.70 113.66,222.61 113.85,238.69 114.03,232.82 114.21,227.40 114.39,236.56 114.58,230.41 114.76,227.50 114.94,211.47 115.12,226.69 115.31,243.75 115.49,222.31 115.67,232.39 115.85,244.75 116.04,224.87 116.22,236.92 116.40,222.76 116.58,230.06 116.77,240.54 116.95,233.27 117.13,202.57 117.31,232.01 117.50,232.11 117.68,224.34 117.86,231.78 118.05,232.69 118.23,222.26 118.41,251.85 118.59,228.29 118.77,214.12 118.96,215.52 119.14,232.09 119.32,228.55 119.50,223.46 119.69,240.12 119.87,228.63 120.05,232.13 120.23,258.78 120.42,229.46 120.60,230.07 120.78,234.57 120.96,234.13 121.15,256.90 121.33,230.61 121.51,222.94 121.69,218.18 121.88,230.61 122.06,229.40 122.24,233.95 122.42,213.03 122.61,204.90 122.79,229.19 122.97,259.88 123.16,222.87 123.34,215.58 123.52,250.81 123.70,237.37 123.88,259.96 124.07,243.55 124.25,201.30 124.43,228.57 124.61,250.31 124.80,243.45 124.98,229.42 125.16,232.05 125.34,248.81 125.53,228.79 125.71,240.54 125.89,224.65 126.07,217.60 126.26,220.53 126.44,247.68 126.62,237.53 126.80,239.31 126.99,239.83 127.17,225.08 127.35,220.57 127.53,232.15 127.72,221.36 127.90,218.84 128.08,239.71 128.26,234.28 128.45,212.16 128.63,227.99 128.81,235.82 129.00,232.77 129.18,227.71 129.36,246.52 129.54,233.84 129.72,226.43 129.91,239.54 130.09,239.82 130.27,225.33 130.45,237.10 130.64,245.16 130.82,230.22 131.00,228.24 131.19,243.42 131.37,263.71 131.55,239.41 131.73,230.85 131.91,213.20 132.10,236.16 132.28,202.64 132.46,243.03 132.64,236.91 132.83,228.31 133.01,226.61 133.19,239.41 133.38,228.44 133.56,233.43 133.74,230.17 133.92,224.70 134.10,231.31 134.29,226.77 134.47,236.07 134.65,236.08 134.83,198.76 135.02,251.00 135.20,215.76 135.38,220.65 135.56,263.34 135.75,251.47 135.93,248.78 136.11,231.10 136.30,249.30 136.48,238.47 136.66,215.52 136.84,226.24 137.02,247.26 137.21,236.57 137.39,239.36 137.57,249.23 137.75,221.44 137.94,253.94 138.12,225.66 138.30,214.97 138.49,207.32 138.67,248.87 138.85,229.63 139.03,224.01 139.21,232.96 139.40,212.73 139.58,215.46 139.76,213.99 139.94,233.06 140.13,230.23 140.31,219.23 140.49,229.77 140.68,259.20 140.86,239.44 141.04,235.83 141.22,239.05 141.41,242.94 141.59,226.16 141.77,230.32 141.95,241.84 142.13,229.20 142.32,235.17 142.50,230.19 142.68,246.51 142.87,249.91 143.05,225.43 143.23,235.93 143.41,222.16 143.59,231.46 143.78,222.41 143.96,248.71 144.14,241.81 144.32,232.00 144.51,222.85 144.69,218.65 144.87,230.39 145.06,233.35 145.24,229.19 145.42,222.95 145.60,221.82 145.78,249.28 145.97,217.65 146.15,226.77 146.33,233.15 146.51,231.30 146.70,222.66 146.88,219.91 147.06,265.59 147.25,244.86 147.43,246.61 147.61,216.17 147.79,228.75 147.97,241.01 148.16,212.59 148.34,249.97 148.52,222.32 148.70,235.74 148.89,261.53 149.07,225.51 149.25,239.95 149.44,229.11 149.62,238.15 149.80,244.11 149.98,225.45 150.16,227.35 150.35,243.84 150.53,242.20 150.71,216.45 150.89,247.03 151.08,228.06 151.26,202.78 151.44,241.62 151.62,225.86 151.81,232.33 151.99,246.16 152.17,231.08 152.35,227.38 152.54,237.24 152.72,240.12 152.90,223.13 153.08,227.22 153.27,231.62 153.45,242.75 153.63,242.04 153.81,233.30 154.00,235.62 154.18,220.13 154.36,238.09 154.54,237.15 154.73,215.64 154.91,220.95 155.09,226.81 155.27,228.73 155.46,231.23 155.64,208.67 155.82,213.45 156.00,232.51 156.19,218.99 156.37,233.26 156.55,226.30 156.74,239.34 156.92,246.11 157.10,246.51 157.28,224.09 157.46,219.16 157.65,265.59 157.83,250.49 158.01,240.64 158.19,236.63 158.38,227.18 158.56,254.94 158.74,221.05 158.93,230.01 159.11,223.84 159.29,231.16 159.47,240.75 159.66,220.16 159.84,233.44 160.02,238.64 160.20,241.62 160.38,239.16 160.57,234.37 160.75,237.58 160.93,230.20 161.12,237.59 161.30,237.43 161.48,232.88 161.66,243.83 161.84,208.91 162.03,249.34 162.21,227.41 162.39,242.89 162.57,233.02 162.76,219.11 162.94,237.46 163.12,243.02 163.31,236.20 163.49,233.42 163.67,229.66 163.85,248.84 164.03,242.67 164.22,244.61 164.40,240.13 164.58,234.83 164.76,212.73 164.95,230.77 165.13,235.00 165.31,243.24 165.50,213.49 165.68,223.94 165.86,213.13 166.04,262.12 166.22,206.33 166.41,244.76 166.59,244.51 166.77,238.14 166.95,241.21 167.14,215.96 167.32,257.28 167.50,222.78 167.69,220.35 167.87,221.21 168.05,224.54 168.23,217.82 168.42,241.17 168.60,239.64 168.78,240.82 168.96,253.47 169.14,224.15 169.33,238.21 169.51,231.51 169.69,216.33 169.88,213.64 170.06,224.83 170.24,240.11 170.42,254.76 170.61,225.32 170.79,247.60 170.97,280.22 171.15,256.84 171.33,241.75 171.52,234.25 171.70,225.38 171.88,214.01 172.06,235.26 172.25,239.91 172.43,241.11 172.61,248.77 172.80,245.66 172.98,228.19 173.16,221.78 173.34,234.12 173.52,254.72 173.71,221.07 173.89,233.94 174.07,243.72 174.25,242.59 174.44,244.35 174.62,221.54 174.80,244.12 174.99,239.20 175.17,268.27 175.35,247.01 175.53,242.47 175.71,246.66 175.90,222.90 176.08,242.02 176.26,214.82 176.44,232.60 176.63,240.70 176.81,243.58 176.99,217.83 177.18,237.25 177.36,216.97 177.54,206.92 177.72,238.92 177.90,222.31 178.09,219.62 178.27,240.17 178.45,255.17 178.63,220.86 178.82,236.61 179.00,243.14 179.18,235.58 179.37,213.92 179.55,243.11 179.73,239.02 179.91,250.93 180.09,213.69 180.28,225.99 180.46,213.94 180.64,224.51 180.82,224.93 181.01,217.72 181.19,218.54 181.37,233.92 181.56,229.59 181.74,235.39 181.92,227.45 182.10,251.16 182.28,261.96 182.47,246.50 182.65,227.06 182.83,234.07 183.01,220.48 183.20,230.43 183.38,234.90 183.56,237.75 183.75,229.95 183.93,232.30 184.11,234.66 184.29,243.94 184.47,249.89 184.66,228.98 184.84,231.12 185.02,231.67 185.20,241.97 185.39,241.09 185.57,238.83 185.75,237.52 185.94,245.82 186.12,230.27 186.30,227.35 186.48,245.31 186.67,240.46 186.85,217.36 187.03,251.19 187.21,250.84 187.39,249.11 187.58,232.59 187.76,239.08 187.94,234.03 188.12,257.73 188.31,247.71 188.49,240.84 188.67,238.81 188.86,248.29 189.04,245.00 189.22,253.66 189.40,247.61 189.58,256.30 189.77,230.53 189.95,246.73 190.13,244.35 190.31,271.43 190.50,241.70 190.68,232.16 190.86,227.00 191.05,252.09 191.23,215.13 191.41,208.24 191.59,236.75 191.77,221.96 191.96,243.90 192.14,239.30 192.32,227.31 192.50,223.80 192.69,233.98 192.87,244.28 193.05,271.22 193.24,248.86 193.42,233.84 193.60,220.65 193.78,240.47 193.96,225.77 194.15,218.38 194.33,237.54 194.51,231.81 194.69,262.17 194.88,240.45 195.06,201.48 195.24,250.49 195.43,239.09 195.61,218.51 195.79,235.70 195.97,233.95 196.15,233.99 196.34,214.81 196.52,234.58 196.70,256.68 196.88,211.04 197.07,210.89 197.25,229.54 197.43,229.50 197.62,246.51 197.80,211.67 197.98,260.58 198.16,224.94 198.34,214.95 198.53,228.12 198.71,227.89 198.89,220.14 199.07,227.87 199.26,224.45 199.44,221.74 199.62,224.96 199.81,230.18 199.99,231.73 200.17,212.29 200.35,242.24 200.53,226.12 200.72,219.90 200.90,234.46 201.08,228.48 201.26,237.72 201.45,249.12 201.63,234.94 201.81,222.07 202.00,229.69 202.18,224.79 202.36,224.13 202.54,225.33 202.72,248.80 202.91,223.48 203.09,225.24 203.27,221.11 203.45,223.21 203.64,239.32 203.82,234.54 204.00,250.73 204.19,236.18 204.37,244.18 204.55,220.85 204.73,232.83 204.92,249.82 205.10,224.08 205.28,236.68 205.46,256.16 205.64,225.33 205.83,250.67 206.01,232.41 206.19,223.15 206.38,221.61 206.56,204.02 206.74,225.72 206.92,235.75 207.11,238.13 207.29,255.54 207.47,245.69 207.65,241.55 207.83,212.42 208.02,235.34 208.20,246.05 208.38,231.74 208.56,230.55 208.75,226.41 208.93,233.69 209.11,241.88 209.30,245.20 209.48,237.65 209.66,230.39 209.84,237.34 210.02,295.98 210.21,236.24 210.39,241.42 210.57,268.97 210.75,256.41 210.94,254.70 211.12,236.28 211.30,243.84 211.49,234.10 211.67,237.11 211.85,238.60 212.03,242.02 212.21,225.14 212.40,239.93 212.58,235.04 212.76,218.06 212.94,242.78 213.13,210.55 213.31,242.19 213.49,216.86 213.68,213.63 213.86,235.21 214.04,227.00 214.22,212.60 214.40,231.52 214.59,206.08 214.77,219.62 214.95,244.39 215.13,221.78 215.32,237.31 215.50,214.43 215.68,245.67 215.87,215.74 216.05,208.59 216.23,259.96 216.41,244.10 216.59,265.39 216.78,247.45 216.96,235.51 217.14,219.33 217.32,227.43 217.51,236.93 217.69,230.38 217.87,220.06 218.06,229.84 218.24,228.88 218.42,229.66 218.60,222.24 218.78,216.40 218.97,218.71 219.15,244.91 219.33,234.52 219.51,230.71 219.70,235.66 219.88,225.25 220.06,237.64 220.25,242.31 220.43,224.77 220.61,237.15 220.79,229.81 220.97,238.54 221.16,236.76 221.34,231.54 221.52,237.03 221.70,219.59 221.89,230.24 222.07,292.61 222.25,263.10 222.44,241.16 222.62,226.23 222.80,251.15 222.98,239.51 223.17,251.10 223.35,244.56 223.53,228.26 223.71,227.82 223.89,209.93 224.08,226.77 224.26,229.73 224.44,237.72 224.62,254.15 224.81,229.37 224.99,220.80 225.17,241.40 225.36,260.02 225.54,255.04 225.72,238.47 225.90,235.80 226.08,229.73 226.27,255.79 226.45,255.51 226.63,233.32 226.81,226.60 227.00,229.97 227.18,231.93 227.36,220.25 227.55,233.48 227.73,256.10 227.91,216.20 228.09,225.54 228.27,243.02 228.46,234.36 228.64,247.51 228.82,222.69 229.00,237.36 229.19,226.67 229.37,234.27 229.55,245.69 229.74,207.80 229.92,227.67 230.10,224.35 230.28,220.47 230.46,214.31 230.65,228.19 230.83,249.78 231.01,226.49 231.19,239.94 231.38,230.13 231.56,223.65 231.74,224.55 231.93,240.39 232.11,238.25 232.29,229.22 232.47,225.25 232.65,229.40 232.84,250.13 233.02,226.29 233.20,239.04 233.38,227.69 233.57,259.96 233.75,248.90 233.93,219.42 234.12,238.36 234.30,224.86 234.48,210.55 234.66,237.45 234.84,243.66 235.03,237.83 235.21,235.40 235.39,238.62 235.57,241.36 235.76,241.36 235.94,223.73 236.12,214.53 236.31,248.13 236.49,233.58 236.67,247.69 236.85,244.25 237.03,230.52 237.22,242.19 237.40,240.53 237.58,249.62 237.76,232.33 237.95,255.33 238.13,236.76 238.31,239.75 238.50,251.37 238.68,245.98 238.86,236.18 239.04,231.43 239.22,221.48 239.41,227.22 239.59,239.31 239.77,220.71 239.95,239.95 240.14,206.46 240.32,233.48 240.50,245.31 240.69,234.76 240.87,238.58 241.05,212.98" stroke="#9fd8f2" stroke-width="0.8" fill="none" opacity="0.24"/>
<polyline points="58.55,338.99 59.28,335.99 60.01,332.30 60.74,329.80 61.47,325.52 62.20,321.89 62.93,328.00 63.66,327.52 64.39,314.72 65.12,316.53 65.85,324.95 66.58,310.93 67.31,311.69 68.04,318.04 68.77,311.72 69.50,313.28 70.23,309.41 70.96,307.04 71.69,309.28 72.42,312.55 73.15,315.00 73.88,306.27 74.61,303.29 75.34,296.81 76.07,296.60 76.80,294.41 77.53,294.30 78.26,290.22 78.99,296.61 79.72,286.02 80.45,284.54 81.18,282.54 81.91,279.26 82.64,281.47 83.37,281.75 84.10,275.55 84.83,269.95 85.56,267.83 86.29,273.65 87.02,264.42 87.75,260.47 88.48,252.69 89.21,258.57 89.94,252.13 90.67,251.14 91.40,253.36 92.13,252.51 92.86,245.38 93.59,245.45 94.32,245.51 95.05,247.92 95.78,241.52 96.51,247.51 97.24,247.08 97.97,243.38 98.70,241.49 99.43,239.89 100.16,239.50 100.89,242.11 101.62,248.15 102.35,241.77 103.08,236.74 103.81,236.60 104.54,244.51 105.27,242.14 106.00,237.76 106.73,237.51 107.46,234.30 108.19,236.11 108.92,225.29 109.65,223.27 110.38,225.56 111.11,225.56 111.84,227.54 112.57,231.70 113.30,229.85 114.03,231.24 114.76,233.46 115.49,236.52 116.22,231.71 116.95,233.90 117.68,232.90 118.41,231.46 119.14,224.96 119.87,235.07 120.60,231.36 121.33,230.13 122.06,228.25 122.79,230.35 123.52,237.16 124.25,226.77 124.98,235.68 125.71,231.60 126.44,236.50 127.17,236.34 127.90,235.15 128.63,226.27 129.36,230.77 130.09,234.73 130.82,228.29 131.55,231.11 132.28,229.14 133.01,234.85 133.74,235.25 134.47,233.38 135.20,230.91 135.93,241.29 136.66,237.60 137.39,235.73 138.12,231.46 138.85,227.81 139.58,223.34 140.31,233.77 141.04,239.41 141.77,232.42 142.50,225.60 143.23,230.65 143.96,240.71 144.69,228.75 145.42,231.73 146.15,226.42 146.88,233.34 147.61,230.59 148.34,227.77 149.07,226.48 149.80,238.16 150.53,238.03 151.26,229.98 151.99,236.27 152.72,232.24 153.45,233.57 154.18,233.64 154.91,231.68 155.64,230.35 156.37,227.89 157.10,235.48 157.83,235.40 158.56,232.04 159.29,231.44 160.02,232.59 160.75,233.93 161.48,238.70 162.21,226.03 162.94,232.66 163.67,236.74 164.40,234.31 165.13,231.13 165.86,228.27 166.59,231.21 167.32,232.66 168.05,231.96 168.78,233.95 169.51,235.46 170.24,231.50 170.97,228.85 171.70,235.23 172.43,238.69 173.16,233.38 173.89,240.61 174.62,236.87 175.35,240.92 176.08,232.11 176.81,231.42 177.54,233.09 178.27,240.51 179.00,230.72 179.73,232.92 180.46,231.90 181.19,230.83 181.92,235.94 182.65,239.57 183.38,233.84 184.11,232.89 184.84,232.38 185.57,243.38 186.30,232.89 187.03,240.09 187.76,236.05 188.49,239.48 189.22,243.41 189.95,242.72 190.68,234.66 191.41,231.26 192.14,242.57 192.87,241.01 193.60,228.07 194.33,231.13 195.06,224.04 195.79,230.93 196.52,230.12 197.25,236.09 197.98,237.20 198.71,233.27 199.44,229.79 200.17,228.22 200.90,225.98 201.63,236.58 202.36,229.65 203.09,228.74 203.82,228.50 204.55,235.15 205.28,230.32 206.01,227.31 206.74,231.42 207.47,239.64 208.20,228.16 208.93,234.12 209.66,227.09 210.39,233.37 211.12,230.66 211.85,233.73 212.58,228.58 213.31,237.03 214.04,230.39 214.77,229.32 215.50,235.22 216.23,234.46 216.96,235.53 217.69,234.13 218.42,232.87 219.15,228.02 219.88,228.01 220.61,234.11 221.34,231.10 222.07,234.00 222.80,233.39 223.53,231.88 224.26,234.33 224.99,235.83 225.72,234.60 226.45,238.10 227.18,225.13 227.91,230.70 228.64,238.30 229.37,231.71 230.10,234.64 230.83,233.70 231.56,235.41 232.29,234.75 233.02,232.38 233.75,237.85 234.48,232.09 235.21,235.82 235.94,232.02 236.67,232.90 237.40,239.69 238.13,236.76 238.86,238.76 239.59,235.15 240.32,238.24 241.05,229.02" stroke="#2fb4ee" stroke-width="2.1" fill="none" stroke-linejoin="round"/></g>
<text class="tk" x="33.3" y="341.5" text-anchor="end">10</text>
<text class="tk" transform="translate(20.8 341.5) scale(1.35 1)" text-anchor="end">−</text>
<text class="tk" x="33.3" y="319" text-anchor="end">10</text>
<text class="tk" x="33.3" y="296.5" text-anchor="end">30</text>
<text class="tk" x="33.3" y="274" text-anchor="end">50</text>
<text class="tk" x="33.3" y="251.5" text-anchor="end">70</text>
<text class="tk" x="33.3" y="229" text-anchor="end">90</text>
<text class="tk" x="58.5" y="361.4" text-anchor="middle">0</text>
<text class="tk" x="95" y="361.4" text-anchor="middle">200</text>
<text class="tk" x="131.6" y="361.4" text-anchor="middle">400</text>
<text class="tk" x="168.1" y="361.4" text-anchor="middle">600</text>
<text class="tk" x="204.6" y="361.4" text-anchor="middle">800</text>
<text class="tk" x="241.1" y="361.4" text-anchor="middle">1000</text>
<text class="lb" x="150.9" y="375.3" text-anchor="middle">episodes</text>
<text class="lb" transform="translate(14.5 289.5) rotate(-90)" text-anchor="middle">rewards</text>
<rect x="166.3" y="298" width="88.5" height="22.2" fill="#fff" stroke="#333" stroke-width="1.1"/>
<path d="M175.8 309.6H202.2" stroke="#2fb4ee" stroke-width="1.6"/>
<text class="lg" x="208" y="312.8">UAV3</text>
<text class="cp" x="127.8" y="407.3" text-anchor="middle">(c)</text>
<path d="M329.6 213.2V351.2M365.2 213.2V351.2M383.1 213.2V351.2M400.9 213.2V351.2M418.7 213.2V351.2M436.5 213.2V351.2M454.3 213.2V351.2M472.1 213.2V351.2M489.9 213.2V351.2M507.8 213.2V351.2M525.6 213.2V351.2M326.6 348.2H543.4M326.6 331.3H543.4M326.6 297.6H543.4M326.6 280.7H543.4M326.6 263.8H543.4M326.6 246.9H543.4M326.6 230.1H543.4M326.6 213.2H543.4" stroke="#d0d0d0" stroke-width="1.3" fill="none"/>
<path d="M347.4 213.2V351.2M326.6 314.4H543.4" stroke="#8c8c8c" stroke-width="1.4" fill="none"/>
<clipPath id="clipd"><rect x="329.6" y="213.2" width="213.8" height="135"/></clipPath>
<g clip-path="url(#clipd)"><polygon points="347.42,319.56 347.77,319.56 348.13,319.01 348.49,317.02 348.84,314.12 349.20,312.30 349.55,312.30 349.91,312.21 350.27,311.20 350.62,309.35 350.98,307.68 351.34,306.51 351.69,305.33 352.05,301.75 352.41,298.75 352.76,297.25 353.12,297.25 353.47,297.53 353.83,297.05 354.19,296.56 354.54,296.03 354.90,296.03 355.26,297.13 355.61,294.64 355.97,292.14 356.33,289.79 356.68,288.19 357.04,284.98 357.39,281.77 357.75,281.77 358.11,281.77 358.46,284.71 358.82,287.65 359.18,289.12 359.53,289.12 359.89,286.84 360.24,284.55 360.60,283.41 360.96,283.41 361.31,280.05 361.67,276.69 362.03,275.01 362.38,275.01 362.74,275.54 363.10,276.62 363.45,277.69 363.81,277.38 364.16,276.77 364.52,276.15 364.88,273.04 365.23,266.82 365.59,260.59 365.95,260.59 366.30,260.59 366.66,263.63 367.01,266.66 367.37,267.02 367.73,264.70 368.08,262.39 368.44,262.39 368.80,262.39 369.15,263.19 369.51,263.99 369.87,262.78 370.22,261.17 370.58,260.36 370.93,259.44 371.29,256.44 371.65,252.24 372.00,249.79 372.36,249.79 372.72,249.79 373.07,251.86 373.43,254.71 373.79,256.53 374.14,252.68 374.50,248.44 374.85,246.32 375.21,246.10 375.57,245.64 375.92,244.42 376.28,240.62 376.64,236.82 376.99,235.67 377.35,235.67 377.71,235.69 378.06,235.71 378.42,236.04 378.77,236.65 379.13,237.25 379.49,237.24 379.84,237.24 380.20,237.13 380.56,234.71 380.91,230.70 381.27,226.74 381.62,225.80 381.98,224.86 382.34,224.84 382.69,224.84 383.05,225.35 383.41,226.37 383.76,227.40 384.12,226.92 384.48,226.43 384.83,226.14 385.19,226.09 385.54,226.09 385.90,225.97 386.26,225.74 386.61,223.85 386.97,220.54 387.33,217.22 387.68,217.22 388.04,217.22 388.40,219.71 388.75,221.48 389.11,222.01 389.46,221.65 389.82,221.65 390.18,221.58 390.53,221.45 390.89,221.32 391.25,219.65 391.60,217.99 391.96,216.73 392.31,215.90 392.67,215.06 393.03,211.17 393.38,207.27 393.74,205.33 394.10,205.33 394.45,207.56 394.81,212.03 395.17,216.50 395.52,216.50 395.88,216.60 396.23,212.82 396.59,209.04 396.95,207.00 397.30,206.92 397.66,206.83 398.02,206.83 398.37,206.83 398.73,210.64 399.09,215.38 399.44,218.86 399.80,218.89 400.15,216.89 400.51,214.52 400.87,213.68 401.22,213.68 401.58,213.32 401.94,212.61 402.29,211.90 402.65,211.90 403.00,211.90 403.36,212.58 403.72,213.27 404.07,213.61 404.43,214.89 404.79,217.46 405.14,221.19 405.50,223.59 405.86,227.26 406.21,227.26 406.57,226.23 406.92,225.39 407.28,223.85 407.64,222.31 407.99,221.53 408.35,221.53 408.71,221.85 409.06,221.04 409.42,218.79 409.77,215.32 410.13,214.18 410.49,213.03 410.84,212.85 411.20,212.48 411.56,212.11 411.91,212.11 412.27,212.11 412.63,213.30 412.98,214.37 413.34,214.74 413.69,214.52 414.05,213.51 414.41,212.50 414.76,212.00 415.12,212.00 415.48,212.71 415.83,214.12 416.19,215.54 416.55,216.41 416.90,218.15 417.26,219.89 417.61,219.89 417.97,221.60 418.33,218.51 418.68,214.56 419.04,212.16 419.40,212.16 419.75,212.40 420.11,215.66 420.47,221.70 420.82,226.58 421.18,223.20 421.53,219.16 421.89,217.13 422.25,217.13 422.60,218.55 422.96,221.40 423.32,224.25 423.67,223.67 424.03,223.67 424.38,219.82 424.74,216.25 425.10,214.61 425.45,214.61 425.81,215.10 426.17,216.68 426.52,218.86 426.88,220.07 427.24,220.08 427.59,219.11 427.95,218.14 428.30,217.66 428.66,217.66 429.02,218.05 429.37,220.72 429.73,223.08 430.09,223.72 430.44,223.57 430.80,223.57 431.15,223.61 431.51,221.18 431.87,218.74 432.22,217.48 432.58,217.48 432.94,215.83 433.29,214.19 433.65,213.37 434.01,213.37 434.36,214.27 434.72,216.27 435.07,218.47 435.43,218.88 435.79,218.88 436.14,217.83 436.50,215.72 436.86,213.61 437.21,213.61 437.57,213.61 437.93,216.76 438.28,219.24 438.64,219.80 438.99,219.80 439.35,219.80 439.71,220.33 440.06,220.86 440.42,221.12 440.78,217.19 441.13,213.27 441.49,211.30 441.85,211.30 442.20,212.36 442.56,215.23 442.91,218.86 443.27,220.37 443.63,221.47 443.98,222.20 444.34,221.45 444.70,218.51 445.05,218.51 445.41,218.51 445.76,218.65 446.12,218.80 446.48,218.87 446.83,216.90 447.19,214.93 447.55,213.94 447.90,213.94 448.26,216.05 448.62,219.94 448.97,223.82 449.33,223.15 449.68,221.00 450.04,217.46 450.40,214.18 450.75,214.18 451.11,214.18 451.47,216.07 451.82,217.96 452.18,218.91 452.54,216.30 452.89,213.70 453.25,212.39 453.60,212.39 453.96,214.11 454.32,217.63 454.67,220.20 455.03,218.34 455.39,216.44 455.74,216.44 456.10,215.88 456.45,215.32 456.81,215.03 457.17,215.03 457.52,216.10 457.88,216.83 458.24,217.56 458.59,216.87 458.95,216.87 459.31,214.12 459.66,211.37 460.02,209.99 460.37,209.99 460.73,212.79 461.09,216.72 461.44,219.00 461.80,215.69 462.16,215.69 462.51,215.69 462.87,218.07 463.23,220.02 463.58,220.35 463.94,216.73 464.29,213.97 464.65,212.59 465.01,212.59 465.36,213.64 465.72,215.76 466.08,217.88 466.43,217.88 466.79,219.23 467.14,218.87 467.50,215.36 467.86,211.05 468.21,210.54 468.57,210.49 468.93,210.49 469.28,211.13 469.64,212.81 470.00,214.50 470.35,218.23 470.71,223.31 471.06,225.39 471.42,223.37 471.78,219.79 472.13,217.21 472.49,215.92 472.85,215.78 473.20,215.51 473.56,215.23 473.91,215.23 474.27,215.23 474.63,213.29 474.98,211.35 475.34,210.38 475.70,210.38 476.05,211.46 476.41,213.62 476.77,215.77 477.12,217.52 477.48,219.27 477.83,220.15 478.19,220.15 478.55,220.19 478.90,220.28 479.26,220.86 479.62,220.64 479.97,219.62 480.33,218.79 480.69,218.39 481.04,217.57 481.40,216.76 481.75,216.76 482.11,216.76 482.47,216.87 482.82,218.36 483.18,219.80 483.54,214.56 483.89,208.63 484.25,205.67 484.61,205.67 484.96,207.32 485.32,210.62 485.67,214.69 486.03,216.26 486.39,220.20 486.74,224.96 487.10,229.26 487.46,227.91 487.81,225.23 488.17,223.04 488.52,220.84 488.88,220.84 489.24,220.84 489.59,221.15 489.95,221.46 490.31,221.61 490.66,221.61 491.02,223.19 491.38,226.34 491.73,229.35 492.09,228.40 492.44,224.42 492.80,221.73 493.16,220.38 493.51,220.38 493.87,220.76 494.23,223.70 494.58,223.95 494.94,219.66 495.29,214.35 495.65,214.35 496.01,213.67 496.36,212.29 496.72,210.92 497.08,210.92 497.43,210.92 497.79,213.89 498.15,217.39 498.50,219.41 498.86,219.68 499.21,221.10 499.57,223.31 499.93,225.16 500.28,224.99 500.64,224.99 501.00,224.99 501.35,226.58 501.71,228.17 502.07,229.27 502.42,229.85 502.78,228.41 503.13,225.71 503.49,223.72 503.85,223.72 504.20,223.72 504.56,217.03 504.92,210.35 505.27,207.01 505.63,207.01 505.99,208.82 506.34,216.12 506.70,223.42 507.05,225.26 507.41,222.75 507.77,218.05 508.12,213.49 508.48,213.49 508.84,213.49 509.19,217.22 509.55,220.62 509.90,222.00 510.26,222.00 510.62,222.00 510.97,223.26 511.33,225.33 511.69,226.20 512.04,226.13 512.40,225.63 512.76,225.63 513.11,225.35 513.47,226.04 513.82,227.47 514.18,226.40 514.54,222.33 514.89,217.76 515.25,217.76 515.61,217.76 515.96,221.13 516.32,224.50 516.67,225.82 517.03,225.03 517.39,224.25 517.74,224.22 518.10,221.85 518.46,219.16 518.81,217.46 519.17,217.27 519.53,217.27 519.88,217.27 520.24,218.38 520.59,219.49 520.95,220.04 521.31,216.45 521.66,212.85 522.02,211.05 522.38,211.05 522.73,213.19 523.09,217.48 523.45,221.76 523.80,223.35 524.16,224.42 524.51,224.43 524.87,224.43 525.23,224.43 525.58,224.43 525.58,241.95 525.23,241.95 524.87,241.85 524.51,241.65 524.16,241.46 523.80,241.43 523.45,240.47 523.09,239.58 522.73,239.44 522.38,240.77 522.02,243.26 521.66,245.84 521.31,246.85 520.95,246.85 520.59,246.85 520.24,244.25 519.88,241.74 519.53,243.06 519.17,248.14 518.81,253.06 518.46,253.06 518.10,253.06 517.74,248.94 517.39,244.83 517.03,243.05 516.67,243.43 516.32,243.68 515.96,247.75 515.61,254.44 515.25,260.45 514.89,260.45 514.54,260.45 514.18,251.40 513.82,242.95 513.47,241.95 513.11,248.11 512.76,253.97 512.40,253.97 512.04,253.97 511.69,247.41 511.33,240.85 510.97,239.95 510.62,244.71 510.26,249.47 509.90,249.47 509.55,249.47 509.19,246.36 508.84,245.14 508.48,245.47 508.12,246.42 507.77,246.42 507.41,244.72 507.05,249.62 506.70,258.61 506.34,268.89 505.99,268.89 505.63,268.89 505.27,256.70 504.92,244.51 504.56,237.77 504.20,237.29 503.85,237.63 503.49,239.26 503.13,239.26 502.78,239.59 502.42,240.24 502.07,240.89 501.71,240.89 501.35,244.88 501.00,252.84 500.64,260.80 500.28,260.80 499.93,260.80 499.57,252.15 499.21,243.60 498.86,239.48 498.50,240.10 498.15,240.51 497.79,240.71 497.43,240.71 497.08,240.37 496.72,240.61 496.36,240.85 496.01,241.31 495.65,242.93 495.29,244.54 494.94,245.35 494.58,245.35 494.23,244.68 493.87,243.36 493.51,242.93 493.16,243.83 492.80,244.28 492.44,244.28 492.09,243.00 491.73,240.43 491.38,237.86 491.02,240.04 490.66,244.38 490.31,248.72 489.95,248.72 489.59,248.72 489.24,249.86 488.88,251.00 488.52,251.57 488.17,251.57 487.81,250.99 487.46,249.88 487.10,248.77 486.74,248.79 486.39,248.79 486.03,247.25 485.67,244.16 485.32,241.08 484.96,243.64 484.61,246.20 484.25,247.48 483.89,247.48 483.54,245.17 483.18,240.54 482.82,235.92 482.47,235.56 482.11,235.19 481.75,235.01 481.40,235.01 481.04,235.11 480.69,235.31 480.33,236.24 479.97,236.97 479.62,237.34 479.26,240.69 478.90,244.05 478.55,245.72 478.19,245.72 477.83,242.83 477.48,238.77 477.12,234.71 476.77,236.56 476.41,238.55 476.05,240.54 475.70,240.54 475.34,240.54 474.98,240.07 474.63,239.26 474.27,238.04 473.91,240.28 473.56,242.68 473.20,247.72 472.85,253.42 472.49,258.76 472.13,258.76 471.78,258.76 471.42,252.22 471.06,245.67 470.71,242.40 470.35,242.40 470.00,241.19 469.64,239.99 469.28,239.38 468.93,237.46 468.57,234.86 468.21,232.95 467.86,234.25 467.50,239.68 467.14,244.77 466.79,247.32 466.43,247.32 466.08,245.66 465.72,240.60 465.36,236.31 465.01,237.76 464.65,240.23 464.29,241.14 463.94,241.14 463.58,240.22 463.23,238.27 462.87,236.40 462.51,236.49 462.16,236.64 461.80,238.84 461.44,243.24 461.09,247.64 460.73,247.64 460.37,247.64 460.02,245.99 459.66,245.76 459.31,247.08 458.95,247.08 458.59,247.08 458.24,243.68 457.88,240.28 457.52,238.58 457.17,238.24 456.81,240.48 456.45,242.71 456.10,244.17 455.74,244.17 455.39,243.06 455.03,240.85 454.67,238.83 454.32,239.10 453.96,239.35 453.60,239.50 453.25,239.50 452.89,239.50 452.54,242.54 452.18,245.58 451.82,247.10 451.47,247.10 451.11,246.67 450.75,247.45 450.40,248.24 450.04,249.07 449.68,250.84 449.33,254.39 448.97,257.94 448.62,257.94 448.26,257.94 447.90,257.60 447.55,257.25 447.19,257.07 446.83,257.07 446.48,249.00 446.12,240.68 445.76,238.39 445.41,240.49 445.05,241.54 444.70,241.97 444.34,244.67 443.98,249.17 443.63,252.80 443.27,252.80 442.91,252.80 442.56,248.64 442.20,244.48 441.85,241.05 441.49,238.36 441.13,235.67 440.78,236.57 440.42,239.23 440.06,242.75 439.71,244.73 439.35,244.98 438.99,245.11 438.64,245.11 438.28,244.18 437.93,242.33 437.57,240.48 437.21,238.45 436.86,236.43 436.50,235.42 436.14,235.91 435.79,236.40 435.43,238.34 435.07,240.02 434.72,240.86 434.36,241.83 434.01,243.75 433.65,245.68 433.29,245.68 432.94,245.68 432.58,243.40 432.22,241.13 431.87,239.31 431.51,237.72 431.15,235.91 430.80,234.42 430.44,244.85 430.09,266.04 429.73,287.48 429.37,287.48 429.02,287.48 428.66,267.82 428.30,248.15 427.95,239.46 427.59,241.75 427.24,244.03 426.88,244.03 426.52,244.03 426.17,241.87 425.81,239.70 425.45,237.73 425.10,235.64 424.74,235.74 424.38,245.42 424.03,255.32 423.67,258.76 423.32,258.76 422.96,254.05 422.60,244.62 422.25,235.19 421.89,235.19 421.53,234.89 421.18,235.09 420.82,235.94 420.47,237.86 420.11,239.71 419.75,241.56 419.40,241.56 419.04,242.56 418.68,243.55 418.33,244.05 417.97,244.05 417.61,243.31 417.26,246.45 416.90,249.59 416.55,251.90 416.19,253.68 415.83,257.23 415.48,260.79 415.12,260.79 414.76,260.79 414.41,253.25 414.05,245.72 413.69,241.95 413.34,241.95 412.98,241.83 412.63,242.59 412.27,243.41 411.91,243.86 411.56,243.86 411.20,242.56 410.84,239.96 410.49,236.68 410.13,235.83 409.77,235.47 409.42,236.46 409.06,236.46 408.71,239.28 408.35,242.10 407.99,243.51 407.64,243.51 407.28,243.22 406.92,242.81 406.57,245.55 406.21,248.79 405.86,250.37 405.50,250.37 405.14,249.48 404.79,247.23 404.43,244.51 404.07,243.57 403.72,243.57 403.36,243.57 403.00,241.12 402.65,238.30 402.29,236.33 401.94,234.79 401.58,235.20 401.22,244.90 400.87,256.20 400.51,259.84 400.15,259.84 399.80,254.01 399.44,247.95 399.09,241.90 398.73,244.70 398.37,244.70 398.02,242.20 397.66,237.21 397.30,233.72 396.95,236.74 396.59,239.75 396.23,239.75 395.88,239.75 395.52,239.42 395.17,239.09 394.81,238.92 394.45,238.92 394.10,238.98 393.74,239.04 393.38,239.08 393.03,239.08 392.67,240.08 392.31,242.09 391.96,244.10 391.60,244.10 391.25,244.21 390.89,244.31 390.53,244.36 390.18,244.36 389.82,243.93 389.46,243.05 389.11,242.95 388.75,243.71 388.40,244.09 388.04,244.09 387.68,244.20 387.33,245.19 386.97,246.97 386.61,248.54 386.26,248.54 385.90,248.54 385.54,247.08 385.19,245.62 384.83,244.89 384.48,245.83 384.12,253.40 383.76,260.98 383.41,263.82 383.05,263.82 382.69,261.40 382.34,256.54 381.98,250.26 381.62,249.67 381.27,249.78 380.91,251.00 380.56,252.59 380.20,254.18 379.84,254.18 379.49,255.13 379.13,258.80 378.77,262.47 378.42,263.36 378.06,263.36 377.71,263.16 377.35,262.75 376.99,260.81 376.64,259.28 376.28,260.87 375.92,265.56 375.57,270.26 375.21,270.26 374.85,270.26 374.50,269.53 374.14,268.79 373.79,269.99 373.43,271.56 373.07,273.23 372.72,274.11 372.36,274.55 372.00,274.55 371.65,274.00 371.29,275.59 370.93,273.03 370.58,273.90 370.22,275.17 369.87,275.99 369.51,279.73 369.15,285.45 368.80,287.52 368.44,288.56 368.08,288.56 367.73,288.29 367.37,291.78 367.01,295.26 366.66,297.27 366.30,297.27 365.95,296.11 365.59,293.78 365.23,292.39 364.88,294.75 364.52,297.86 364.16,299.86 363.81,299.86 363.45,299.86 363.10,298.62 362.74,297.37 362.38,296.75 362.03,297.82 361.67,298.90 361.31,299.76 360.96,301.54 360.60,304.47 360.24,306.76 359.89,307.05 359.53,307.34 359.18,311.54 358.82,315.61 358.46,317.64 358.11,317.64 357.75,316.52 357.39,314.27 357.04,312.02 356.68,312.02 356.33,313.88 355.97,317.60 355.61,321.31 355.26,321.31 354.90,321.31 354.54,320.33 354.19,319.81 353.83,320.02 353.47,320.02 353.12,320.02 352.76,319.24 352.41,319.22 352.05,319.59 351.69,322.17 351.34,326.15 350.98,329.92 350.62,329.92 350.27,329.92 349.91,328.84 349.55,327.32 349.20,326.44 348.84,327.09 348.49,328.84 348.13,330.68 347.77,331.00 347.42,331.00" fill="#c8ecfb" opacity="0.6"/>
<polyline points="347.42,331.00 347.59,327.93 347.77,330.20 347.95,319.56 348.13,326.35 348.31,326.38 348.49,324.61 348.66,320.26 348.84,320.29 349.02,326.10 349.20,316.85 349.38,317.37 349.55,312.30 349.73,319.96 349.91,322.13 350.09,325.45 350.27,327.23 350.45,317.98 350.62,329.92 350.80,321.03 350.98,311.86 351.16,314.93 351.34,307.68 351.51,319.97 351.69,312.69 351.87,312.29 352.05,314.95 352.23,304.75 352.41,309.94 352.58,311.60 352.76,318.06 352.94,297.25 353.12,312.43 353.30,308.52 353.47,320.02 353.65,317.67 353.83,306.14 354.01,312.52 354.19,298.67 354.37,308.34 354.54,303.57 354.72,296.03 354.90,317.48 355.08,301.53 355.26,321.31 355.43,310.99 355.61,304.32 355.79,311.07 355.97,303.60 356.15,310.13 356.33,310.52 356.50,289.79 356.68,309.71 356.86,312.02 357.04,308.73 357.22,300.11 357.39,303.30 357.57,306.44 357.75,281.77 357.93,293.94 358.11,300.29 358.28,317.64 358.46,300.74 358.64,304.43 358.82,300.96 359.00,307.48 359.18,291.98 359.35,289.12 359.53,298.94 359.71,306.39 359.89,306.76 360.07,296.83 360.24,301.04 360.42,299.11 360.60,293.92 360.78,283.41 360.96,292.83 361.14,299.44 361.31,290.61 361.49,289.50 361.67,296.66 361.85,286.72 362.03,286.05 362.20,275.01 362.38,290.61 362.56,288.81 362.74,296.75 362.92,290.84 363.10,289.99 363.27,277.69 363.45,296.39 363.63,280.53 363.81,299.86 363.99,294.02 364.16,294.87 364.34,292.71 364.52,284.48 364.70,286.07 364.88,276.15 365.06,280.50 365.23,281.97 365.41,287.29 365.59,276.48 365.77,291.46 365.95,260.59 366.12,276.29 366.30,285.74 366.48,297.27 366.66,283.76 366.84,278.88 367.01,275.33 367.19,271.35 367.37,268.18 367.55,287.23 367.73,276.44 367.91,272.78 368.08,271.43 368.26,288.56 368.44,262.39 368.62,279.57 368.80,283.38 368.97,274.48 369.15,265.21 369.33,268.58 369.51,268.07 369.69,269.43 369.87,264.38 370.04,274.02 370.22,273.42 370.40,268.02 370.58,265.72 370.76,260.36 370.93,271.83 371.11,269.12 371.29,266.03 371.47,263.66 371.65,260.95 371.83,260.21 372.00,255.92 372.18,274.55 372.36,249.79 372.54,269.88 372.72,254.96 372.89,272.35 373.07,262.42 373.25,266.38 373.43,262.92 373.61,261.93 373.79,268.42 373.96,261.96 374.14,263.76 374.32,256.92 374.50,261.28 374.68,267.99 374.85,257.03 375.03,246.32 375.21,270.26 375.39,248.73 375.57,255.01 375.75,248.34 375.92,251.60 376.10,258.52 376.28,245.18 376.46,254.42 376.64,258.42 376.81,255.16 376.99,241.38 377.17,235.67 377.35,241.39 377.53,249.69 377.71,262.34 377.88,235.74 378.06,250.57 378.24,263.36 378.42,258.92 378.60,248.62 378.77,253.33 378.95,250.10 379.13,241.20 379.31,240.37 379.49,237.25 379.66,240.35 379.84,254.18 380.02,243.05 380.20,237.24 380.38,241.40 380.56,241.92 380.73,250.20 380.91,241.15 381.09,243.42 381.27,236.68 381.45,235.21 381.62,227.20 381.80,233.78 381.98,238.80 382.16,248.12 382.34,224.91 382.52,224.84 382.69,251.68 382.87,232.21 383.05,229.62 383.23,263.82 383.41,249.60 383.58,243.31 383.76,227.40 383.94,229.61 384.12,243.24 384.30,233.18 384.48,241.03 384.65,228.57 384.83,244.89 385.01,226.22 385.19,237.82 385.37,243.86 385.54,226.09 385.72,236.44 385.90,230.98 386.08,239.29 386.26,248.54 386.44,233.69 386.61,244.61 386.79,232.71 386.97,225.51 387.15,226.87 387.33,238.94 387.50,240.60 387.68,217.22 387.86,231.37 388.04,223.43 388.22,244.09 388.40,238.01 388.57,228.26 388.75,236.98 388.93,229.52 389.11,237.67 389.29,228.41 389.46,242.18 389.64,221.65 389.82,223.34 390.00,225.78 390.18,236.55 390.35,244.36 390.53,237.53 390.71,237.67 390.89,241.45 391.07,234.85 391.25,221.32 391.42,236.61 391.60,244.10 391.78,225.52 391.96,224.52 392.14,217.15 392.31,226.28 392.49,234.35 392.67,229.00 392.85,230.84 393.03,215.06 393.21,239.08 393.38,231.76 393.56,229.82 393.74,238.92 393.92,205.33 394.10,226.55 394.27,222.31 394.45,217.36 394.63,238.92 394.81,224.93 394.99,219.32 395.17,232.71 395.34,216.50 395.52,225.59 395.70,221.30 395.88,224.24 396.06,232.04 396.23,239.75 396.41,219.35 396.59,219.60 396.77,217.00 396.95,232.21 397.13,207.04 397.30,231.34 397.48,232.11 397.66,212.68 397.84,231.94 398.02,206.83 398.19,214.06 398.37,226.84 398.55,244.70 398.73,222.33 398.91,218.67 399.09,229.11 399.26,220.61 399.44,224.78 399.62,230.68 399.80,219.62 399.98,223.43 400.15,221.66 400.33,259.84 400.51,241.64 400.69,224.18 400.87,217.88 401.04,213.68 401.22,218.44 401.40,215.24 401.58,221.34 401.76,230.31 401.94,231.59 402.11,218.63 402.29,229.91 402.47,235.59 402.65,211.90 402.83,232.31 403.00,223.53 403.18,237.45 403.36,227.39 403.54,231.13 403.72,243.57 403.90,213.61 404.07,232.39 404.25,232.29 404.43,231.07 404.61,220.03 404.79,239.83 404.96,225.81 405.14,226.29 405.32,245.92 405.50,229.69 405.68,250.37 405.86,229.82 406.03,242.48 406.21,235.15 406.39,229.60 406.57,239.17 406.75,230.72 406.92,234.57 407.10,225.39 407.28,242.03 407.46,234.76 407.64,233.46 407.82,243.51 407.99,231.95 408.17,221.53 408.35,228.56 408.53,223.39 408.71,229.01 408.88,229.95 409.06,236.46 409.24,230.20 409.42,232.52 409.60,225.42 409.77,223.13 409.95,226.30 410.13,215.89 410.31,227.10 410.49,230.86 410.67,233.99 410.84,213.03 411.02,237.36 411.20,229.08 411.38,227.46 411.56,218.92 411.73,243.86 411.91,212.11 412.09,230.87 412.27,235.88 412.45,215.07 412.63,229.47 412.80,224.87 412.98,241.64 413.16,225.68 413.34,226.77 413.52,240.03 413.69,241.95 413.87,241.57 414.05,214.52 414.23,221.47 414.41,234.62 414.59,234.79 414.76,240.51 414.94,212.00 415.12,260.79 415.30,245.33 415.48,219.20 415.65,238.61 415.83,223.13 416.01,215.54 416.19,240.68 416.37,251.90 416.55,225.91 416.72,220.58 416.90,237.96 417.08,240.34 417.26,219.89 417.44,234.22 417.61,228.28 417.79,225.36 417.97,224.17 418.15,244.05 418.33,228.68 418.51,228.15 418.68,230.14 418.86,232.62 419.04,236.14 419.22,212.16 419.40,241.56 419.57,213.37 419.75,230.53 419.93,236.04 420.11,236.93 420.29,229.70 420.47,228.94 420.64,227.25 420.82,228.04 421.00,234.44 421.18,231.62 421.36,230.29 421.53,231.93 421.71,228.24 421.89,233.14 422.07,217.13 422.25,235.19 422.42,232.02 422.60,225.10 422.78,225.27 422.96,229.96 423.14,225.72 423.32,224.25 423.49,258.76 423.67,241.55 423.85,227.39 424.03,234.00 424.21,229.97 424.38,229.84 424.56,230.31 424.74,232.52 424.92,222.81 425.10,232.74 425.28,214.61 425.45,228.31 425.63,217.06 425.81,236.41 425.99,227.98 426.17,238.62 426.34,234.75 426.52,220.07 426.70,222.67 426.88,244.03 427.06,229.22 427.24,237.19 427.41,230.91 427.59,220.09 427.77,227.30 427.95,238.32 428.13,222.51 428.30,227.99 428.48,217.66 428.66,219.62 428.84,225.07 429.02,235.10 429.20,232.83 429.37,287.48 429.55,227.08 429.73,232.00 429.91,228.59 430.09,233.88 430.26,224.34 430.44,227.43 430.62,223.57 430.80,223.80 430.98,233.71 431.15,231.14 431.33,234.37 431.51,234.61 431.69,225.70 431.87,228.97 432.05,237.45 432.22,238.28 432.40,217.48 432.58,239.99 432.76,234.25 432.94,230.33 433.11,225.70 433.29,245.68 433.47,229.27 433.65,233.56 433.83,213.37 434.01,225.66 434.18,217.86 434.36,233.46 434.54,240.86 434.72,231.78 434.90,232.29 435.07,236.48 435.25,236.65 435.43,234.08 435.61,218.88 435.79,224.78 435.97,231.79 436.14,234.53 436.32,225.43 436.50,229.77 436.68,235.42 436.86,231.44 437.03,227.01 437.21,213.61 437.39,233.96 437.57,228.74 437.75,223.20 437.93,240.48 438.10,230.65 438.28,237.56 438.46,230.74 438.64,235.61 438.82,245.11 438.99,219.80 439.17,241.88 439.35,244.47 439.53,227.72 439.71,240.17 439.89,223.69 440.06,233.10 440.24,229.86 440.42,221.12 440.60,221.53 440.78,227.23 440.95,230.35 441.13,224.69 441.31,235.67 441.49,233.04 441.67,211.30 441.85,235.28 442.02,216.59 442.20,227.86 442.38,242.40 442.56,223.86 442.74,239.47 442.91,227.16 443.09,220.37 443.27,252.80 443.45,225.87 443.63,243.73 443.80,235.30 443.98,234.68 444.16,227.12 444.34,230.78 444.52,226.95 444.70,233.87 444.87,241.54 445.05,218.51 445.23,223.31 445.41,235.51 445.59,222.39 445.76,221.78 445.94,225.38 446.12,236.29 446.30,236.02 446.48,218.87 446.66,226.56 446.83,227.53 447.01,237.49 447.19,257.07 447.37,246.31 447.55,232.95 447.72,213.94 447.90,241.64 448.08,227.52 448.26,224.50 448.44,234.21 448.62,257.94 448.79,238.67 448.97,237.87 449.15,224.84 449.33,239.80 449.51,223.65 449.68,228.10 449.86,249.07 450.04,244.93 450.22,222.39 450.40,231.26 450.58,236.83 450.75,214.18 450.93,238.21 451.11,230.67 451.29,226.64 451.47,229.54 451.64,247.10 451.82,236.37 452.00,226.71 452.18,218.91 452.36,238.30 452.54,232.50 452.71,223.75 452.89,221.54 453.07,233.96 453.25,239.50 453.43,212.39 453.60,220.96 453.78,239.11 453.96,229.11 454.14,227.38 454.32,236.40 454.49,221.20 454.67,228.91 454.85,238.64 455.03,223.82 455.21,221.99 455.39,235.24 455.56,231.40 455.74,216.44 455.92,244.17 456.10,225.76 456.28,231.36 456.45,236.90 456.63,232.42 456.81,225.97 456.99,215.03 457.17,224.00 457.35,220.58 457.52,235.26 457.70,238.58 457.88,223.70 458.06,221.51 458.24,231.82 458.41,220.34 458.59,222.14 458.77,216.87 458.95,247.08 459.13,237.00 459.31,221.94 459.48,231.13 459.66,224.40 459.84,239.95 460.02,231.99 460.20,209.99 460.37,233.87 460.55,229.71 460.73,247.64 460.91,223.97 461.09,228.53 461.27,232.69 461.44,230.04 461.62,235.52 461.80,236.64 461.98,225.77 462.16,215.69 462.33,236.26 462.51,229.77 462.69,232.76 462.87,230.31 463.05,221.64 463.23,228.31 463.40,233.31 463.58,228.99 463.76,232.32 463.94,236.56 464.12,241.14 464.29,219.50 464.47,236.57 464.65,230.67 464.83,212.59 465.01,233.36 465.18,224.88 465.36,221.45 465.54,219.72 465.72,224.03 465.90,228.50 466.08,217.88 466.25,236.02 466.43,239.01 466.61,247.32 466.79,225.36 466.97,222.66 467.14,221.24 467.32,234.59 467.50,231.44 467.68,232.88 467.86,227.43 468.04,224.85 468.21,212.76 468.39,210.77 468.57,229.78 468.75,210.49 468.93,213.68 469.10,219.99 469.28,224.31 469.46,239.38 469.64,214.70 469.82,219.65 470.00,236.39 470.17,232.87 470.35,233.85 470.53,227.41 470.71,242.40 470.89,237.97 471.06,229.97 471.24,241.93 471.42,229.35 471.60,235.81 471.78,232.88 471.96,222.37 472.13,258.76 472.31,246.28 472.49,238.44 472.67,215.92 472.85,227.62 473.02,244.52 473.20,227.74 473.38,231.04 473.56,224.90 473.74,229.50 473.91,215.23 474.09,231.76 474.27,235.31 474.45,226.88 474.63,227.91 474.81,238.51 474.98,234.87 475.16,217.42 475.34,239.36 475.52,210.38 475.70,240.54 475.87,217.64 476.05,234.14 476.23,221.28 476.41,215.77 476.59,235.56 476.77,220.63 476.94,225.50 477.12,228.65 477.30,227.42 477.48,228.48 477.66,231.28 477.83,225.14 478.01,220.15 478.19,226.65 478.37,245.72 478.55,220.37 478.73,223.79 478.90,226.33 479.08,224.52 479.26,233.25 479.44,237.34 479.62,229.92 479.79,222.32 479.97,235.50 480.15,225.80 480.33,220.86 480.51,233.69 480.69,218.79 480.86,230.87 481.04,223.52 481.22,227.15 481.40,232.25 481.58,235.01 481.75,216.76 481.93,225.00 482.11,217.04 482.29,229.31 482.47,225.90 482.65,231.59 482.82,220.49 483.00,229.96 483.18,235.92 483.36,225.09 483.54,227.94 483.71,232.94 483.89,230.76 484.07,247.48 484.25,236.34 484.43,205.67 484.61,235.04 484.78,228.53 484.96,241.08 485.14,213.91 485.32,227.84 485.50,232.91 485.67,225.33 485.85,217.82 486.03,233.11 486.21,232.39 486.39,229.71 486.56,248.79 486.74,243.36 486.92,237.40 487.10,248.69 487.28,230.84 487.46,233.06 487.63,235.32 487.81,238.12 487.99,237.88 488.17,226.33 488.35,251.57 488.52,231.11 488.70,240.02 488.88,220.84 489.06,230.91 489.24,235.98 489.42,231.30 489.59,236.64 489.77,223.46 489.95,248.72 490.13,222.35 490.31,228.42 490.48,221.61 490.66,230.55 490.84,234.60 491.02,229.48 491.20,237.86 491.38,233.75 491.55,232.60 491.73,231.18 491.91,232.50 492.09,233.90 492.27,234.31 492.44,235.49 492.62,244.28 492.80,227.11 492.98,227.83 493.16,234.26 493.34,220.38 493.51,222.28 493.69,227.84 493.87,242.04 494.05,236.05 494.23,235.40 494.40,236.65 494.58,240.08 494.76,245.35 494.94,235.34 495.12,232.14 495.29,227.63 495.47,236.14 495.65,214.35 495.83,241.31 496.01,238.99 496.19,221.17 496.36,216.32 496.54,216.36 496.72,226.50 496.90,235.19 497.08,210.92 497.25,230.19 497.43,218.35 497.61,240.71 497.79,226.24 497.97,223.92 498.15,239.68 498.32,234.29 498.50,219.68 498.68,221.04 498.86,229.91 499.04,239.17 499.21,234.92 499.39,230.13 499.57,225.41 499.75,226.30 499.93,234.86 500.11,236.67 500.28,260.80 500.46,234.28 500.64,224.99 500.82,232.61 501.00,238.03 501.17,235.82 501.35,238.48 501.53,228.96 501.71,240.89 501.89,232.45 502.07,231.00 502.24,239.15 502.42,234.76 502.60,233.87 502.78,239.11 502.96,230.50 503.13,239.26 503.31,230.40 503.49,234.89 503.67,227.01 503.85,223.72 504.03,232.80 504.20,230.56 504.38,235.18 504.56,225.02 504.74,225.98 504.92,230.93 505.09,238.42 505.27,229.34 505.45,207.01 505.63,216.07 505.81,226.09 505.99,268.89 506.16,248.44 506.34,230.92 506.52,237.19 506.70,226.06 506.88,225.26 507.05,231.70 507.23,237.93 507.41,236.43 507.59,235.90 507.77,225.96 507.94,246.42 508.12,230.77 508.30,224.50 508.48,213.49 508.66,238.38 508.84,240.04 509.01,223.62 509.19,241.71 509.37,229.27 509.55,239.43 509.73,228.70 509.90,249.47 510.08,224.62 510.26,222.00 510.44,231.29 510.62,232.08 510.80,225.14 510.97,230.00 511.15,237.57 511.33,233.74 511.51,230.84 511.69,235.83 511.86,234.87 512.04,229.22 512.22,235.17 512.40,253.97 512.58,225.90 512.76,225.63 512.93,239.31 513.11,226.65 513.29,234.22 513.47,231.54 513.65,230.75 513.82,229.56 514.00,237.83 514.18,230.97 514.36,232.80 514.54,229.19 514.72,231.43 514.89,260.45 515.07,247.13 515.25,217.76 515.43,227.42 515.61,231.63 515.78,243.73 515.96,226.57 516.14,243.46 516.32,228.57 516.50,228.96 516.67,230.33 516.85,226.18 517.03,234.82 517.21,241.82 517.39,228.80 517.57,242.77 517.74,224.37 517.92,224.22 518.10,228.04 518.28,227.67 518.46,253.06 518.63,229.99 518.81,240.76 518.99,218.84 519.17,217.74 519.35,234.51 519.53,217.27 519.70,232.72 519.88,232.53 520.06,240.36 520.24,235.15 520.42,237.66 520.59,220.04 520.77,229.20 520.95,246.85 521.13,229.10 521.31,244.34 521.49,234.98 521.66,240.38 521.84,232.51 522.02,239.37 522.20,211.05 522.38,234.78 522.55,232.61 522.73,227.13 522.91,235.84 523.09,221.76 523.27,232.09 523.45,233.14 523.62,239.04 523.80,233.02 523.98,227.07 524.16,241.40 524.34,237.96 524.51,241.46 524.69,237.56 524.87,224.43 525.05,226.85 525.23,225.33 525.41,241.95 525.58,234.57" stroke="#9fd8f2" stroke-width="0.8" fill="none" opacity="0.24"/>
<polyline points="347.42,326.26 348.13,325.80 348.84,323.31 349.55,322.37 350.27,321.20 350.98,319.91 351.69,318.69 352.41,312.03 353.12,310.92 353.83,310.45 354.54,309.06 355.26,305.25 355.97,303.95 356.68,307.18 357.39,306.28 358.11,302.59 358.82,297.13 359.53,295.51 360.24,293.66 360.96,291.76 361.67,289.47 362.38,293.09 363.10,291.98 363.81,284.17 364.52,283.99 365.23,284.75 365.95,280.20 366.66,281.46 367.37,283.37 368.08,280.51 368.80,278.90 369.51,273.63 370.22,274.49 370.93,266.84 371.65,264.45 372.36,261.15 373.07,260.09 373.79,259.05 374.50,256.43 375.21,253.68 375.92,247.73 376.64,252.85 377.35,252.47 378.06,251.30 378.77,242.83 379.49,242.37 380.20,241.28 380.91,243.77 381.62,240.58 382.34,239.18 383.05,237.11 383.76,234.19 384.48,231.43 385.19,231.31 385.90,230.93 386.61,238.22 387.33,236.68 388.04,227.09 388.75,227.25 389.46,229.30 390.18,228.24 390.89,234.17 391.60,229.94 392.31,230.02 393.03,234.06 393.74,230.25 394.45,226.49 395.17,228.66 395.88,227.75 396.59,223.81 397.30,225.65 398.02,218.92 398.73,223.45 399.44,225.63 400.15,228.04 400.87,226.92 401.58,226.54 402.29,228.56 403.00,226.95 403.72,233.38 404.43,233.99 405.14,228.13 405.86,227.94 406.57,234.85 407.28,233.75 407.99,232.42 408.71,229.89 409.42,227.94 410.13,225.49 410.84,224.63 411.56,229.05 412.27,232.92 412.98,231.86 413.69,232.19 414.41,227.09 415.12,229.69 415.83,230.26 416.55,234.90 417.26,229.35 417.97,234.20 418.68,232.69 419.40,230.23 420.11,228.63 420.82,227.25 421.53,228.03 422.25,230.47 422.96,228.48 423.67,224.34 424.38,230.35 425.10,229.79 425.81,228.84 426.52,230.71 427.24,228.64 427.95,234.65 428.66,228.26 429.37,228.77 430.09,234.91 430.80,230.75 431.51,231.34 432.22,230.10 432.94,230.04 433.65,230.44 434.36,228.45 435.07,229.60 435.79,227.52 436.50,228.09 437.21,230.25 437.93,232.56 438.64,233.04 439.35,229.60 440.06,228.85 440.78,231.70 441.49,231.67 442.20,228.73 442.91,226.79 443.63,233.01 444.34,228.71 445.05,234.05 445.76,231.54 446.48,230.54 447.19,232.80 447.90,232.58 448.62,233.76 449.33,236.55 450.04,236.96 450.75,229.02 451.47,234.47 452.18,232.80 452.89,227.77 453.60,233.53 454.32,231.91 455.03,229.03 455.74,230.55 456.45,236.48 457.17,235.66 457.88,233.45 458.59,234.03 459.31,229.20 460.02,236.47 460.73,231.79 461.44,228.40 462.16,231.82 462.87,229.87 463.58,229.98 464.29,226.86 465.01,224.64 465.72,228.24 466.43,229.59 467.14,226.58 467.86,227.21 468.57,230.16 469.28,228.19 470.00,231.66 470.71,231.87 471.42,229.10 472.13,231.31 472.85,230.60 473.56,236.93 474.27,232.02 474.98,230.68 475.70,230.78 476.41,225.41 477.12,230.41 477.83,232.99 478.55,225.44 479.26,229.33 479.97,232.65 480.69,228.77 481.40,228.39 482.11,227.70 482.82,228.12 483.54,225.92 484.25,229.29 484.96,231.79 485.67,230.93 486.39,231.01 487.10,236.89 487.81,232.61 488.52,230.68 489.24,234.16 489.95,233.52 490.66,231.18 491.38,230.98 492.09,232.88 492.80,233.09 493.51,228.64 494.23,234.30 494.94,231.09 495.65,229.21 496.36,227.90 497.08,227.60 497.79,228.58 498.50,230.90 499.21,233.25 499.93,226.14 500.64,229.01 501.35,228.86 502.07,231.59 502.78,235.10 503.49,233.66 504.20,232.36 504.92,226.73 505.63,227.56 506.34,232.84 507.05,231.63 507.77,231.74 508.48,227.15 509.19,232.90 509.90,234.04 510.62,230.15 511.33,234.72 512.04,226.80 512.76,228.00 513.47,227.61 514.18,230.81 514.89,235.00 515.61,234.92 516.32,228.91 517.03,234.72 517.74,228.92 518.46,235.89 519.17,226.20 519.88,230.32 520.59,230.73 521.31,232.30 522.02,229.59 522.73,230.95 523.45,230.51 524.16,231.99 524.87,229.33 525.58,238.09" stroke="#2fb4ee" stroke-width="2.1" fill="none" stroke-linejoin="round"/></g>
<text class="tk" x="324.8" y="336.2" text-anchor="end">50</text>
<text class="tk" transform="translate(312.3 336.2) scale(1.35 1)" text-anchor="end">−</text>
<text class="tk" x="324.8" y="302.5" text-anchor="end">50</text>
<text class="tk" x="324.8" y="268.7" text-anchor="end">150</text>
<text class="tk" x="324.8" y="235" text-anchor="end">250</text>
<text class="tk" x="347.4" y="363.6" text-anchor="middle">0</text>
<text class="tk" x="383.1" y="363.6" text-anchor="middle">200</text>
<text class="tk" x="418.7" y="363.6" text-anchor="middle">400</text>
<text class="tk" x="454.3" y="363.6" text-anchor="middle">600</text>
<text class="tk" x="489.9" y="363.6" text-anchor="middle">800</text>
<text class="tk" x="525.6" y="363.6" text-anchor="middle">1000</text>
<text class="lb" x="438.5" y="375.5" text-anchor="middle">episodes</text>
<text class="lb" transform="translate(300.7 285) rotate(-90)" text-anchor="middle">rewards</text>
<rect x="432.3" y="284.7" width="107.1" height="23.7" fill="#fff" stroke="#333" stroke-width="1.1"/>
<path d="M438 297.6H464.5" stroke="#2fb4ee" stroke-width="1.6"/>
<text class="lg" x="468" y="302">Total UAVs</text>
<text class="cp" x="413.5" y="407" text-anchor="middle">(d)</text>
</g>
</svg>
</body></html>
